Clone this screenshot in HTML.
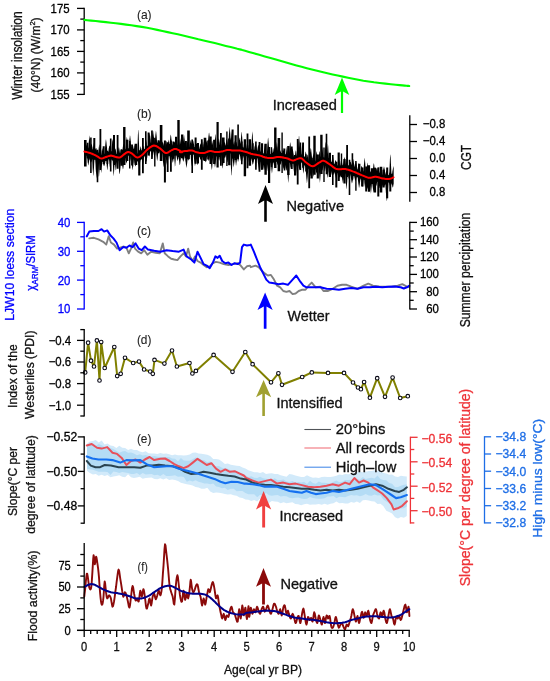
<!DOCTYPE html>
<html lang="en"><head><meta charset="utf-8"><title>Figure</title>
<style>html,body{margin:0;padding:0;background:#fff}svg{display:block}</style></head>
<body>
<svg width="550" height="681" viewBox="0 0 550 681" font-family='"Liberation Sans", Arial, sans-serif'>
<rect width="550" height="681" fill="#fff"/>
<line x1="84.2" y1="7.8" x2="84.2" y2="95.1" stroke="#000" stroke-width="1.3" stroke-linecap="butt"/>
<line x1="84.2" y1="8.4" x2="77" y2="8.4" stroke="#000" stroke-width="1.3" stroke-linecap="butt"/>
<line x1="84.2" y1="29.9" x2="77" y2="29.9" stroke="#000" stroke-width="1.3" stroke-linecap="butt"/>
<line x1="84.2" y1="51.4" x2="77" y2="51.4" stroke="#000" stroke-width="1.3" stroke-linecap="butt"/>
<line x1="84.2" y1="72.9" x2="77" y2="72.9" stroke="#000" stroke-width="1.3" stroke-linecap="butt"/>
<line x1="84.2" y1="94.4" x2="77" y2="94.4" stroke="#000" stroke-width="1.3" stroke-linecap="butt"/>
<line x1="84.2" y1="19.1" x2="80.3" y2="19.1" stroke="#000" stroke-width="1.3" stroke-linecap="butt"/>
<line x1="84.2" y1="40.6" x2="80.3" y2="40.6" stroke="#000" stroke-width="1.3" stroke-linecap="butt"/>
<line x1="84.2" y1="62.1" x2="80.3" y2="62.1" stroke="#000" stroke-width="1.3" stroke-linecap="butt"/>
<line x1="84.2" y1="83.7" x2="80.3" y2="83.7" stroke="#000" stroke-width="1.3" stroke-linecap="butt"/>
<text x="69.6" y="12.8" font-size="12.3" text-anchor="end" fill="#000" stroke="#000" stroke-width="0.3" textLength="19" lengthAdjust="spacingAndGlyphs">175</text>
<text x="69.6" y="34.3" font-size="12.3" text-anchor="end" fill="#000" stroke="#000" stroke-width="0.3" textLength="19" lengthAdjust="spacingAndGlyphs">170</text>
<text x="69.6" y="55.8" font-size="12.3" text-anchor="end" fill="#000" stroke="#000" stroke-width="0.3" textLength="19" lengthAdjust="spacingAndGlyphs">165</text>
<text x="69.6" y="77.3" font-size="12.3" text-anchor="end" fill="#000" stroke="#000" stroke-width="0.3" textLength="19" lengthAdjust="spacingAndGlyphs">160</text>
<text x="69.6" y="98.8" font-size="12.3" text-anchor="end" fill="#000" stroke="#000" stroke-width="0.3" textLength="19" lengthAdjust="spacingAndGlyphs">155</text>
<path d="M84.4,19.9 L87.2,20.2 L91.1,20.6 L95.7,21 L100.8,21.6 L105.9,22.1 L110.9,22.7 L115.8,23.3 L120.9,23.9 L126.1,24.6 L131.3,25.3 L136.6,26.1 L141.8,26.9 L147,27.8 L152.1,28.8 L157.2,29.9 L162.4,31 L167.6,32.1 L172.7,33.2 L177.8,34.3 L183,35.5 L188.1,36.7 L193.3,37.9 L198.4,39.2 L203.6,40.4 L209,41.7 L214.7,43.1 L220.4,44.5 L225.8,45.9 L230.6,47.1 L234.6,48.1 L237.3,48.8 L238.8,49.1 L239.8,49.4 L240.8,49.6 L242.3,50.1 L245,50.8 L249,51.9 L253.8,53.3 L259.2,54.8 L264.8,56.4 L270.5,58 L275.9,59.5 L281,61 L286.2,62.5 L291.3,63.9 L296.5,65.4 L301.6,66.8 L306.8,68.2 L311.9,69.5 L317.1,70.8 L322.2,72 L327.4,73.2 L332.6,74.4 L337.7,75.5 L342.8,76.6 L348,77.7 L353.1,78.7 L358.3,79.7 L363.4,80.7 L368.6,81.5 L374,82.3 L379.7,83 L385.4,83.6 L390.8,84.2 L395.7,84.7 L399.6,85.1 L402.5,85.4 L404.7,85.6 L406.3,85.8 L407.5,85.9 L408.4,85.9 L409.2,86" fill="none" stroke="#00FF00" stroke-width="2.1" stroke-linejoin="round" stroke-linecap="round"/>
<path d="M342,77.5 Q345.8,87.1 349.3,95 L343.1,91.6 L343.1,113 L340.9,113 L340.9,91.6 L334.7,95 Q338.2,87.1 342,77.5 Z" fill="#00FF00"/>
<text x="272.7" y="109.7" font-size="14.5" text-anchor="start" fill="#111" stroke="#111" stroke-width="0.3" textLength="64.1" lengthAdjust="spacingAndGlyphs">Increased</text>
<text x="136.9" y="18.5" font-size="13" text-anchor="start" fill="#222" stroke="#222" stroke-width="0.1" textLength="14.7" lengthAdjust="spacingAndGlyphs">(a)</text>
<text x="22.2" y="55.6" font-size="14" text-anchor="middle" fill="#111" stroke="#111" stroke-width="0.3" textLength="88.5" lengthAdjust="spacingAndGlyphs" transform="rotate(-90 22.2 55.6)">Winter insolation</text>
<text x="39.6" y="54.9" font-size="12.8" text-anchor="middle" fill="#111" stroke="#111" stroke-width="0.3" textLength="75" lengthAdjust="spacingAndGlyphs" transform="rotate(-90 39.6 54.9)">(40°N) (W/m<tspan font-size="8" dy="-4.5">2</tspan><tspan dy="4.5">)</tspan></text>
<path d="M84.7,146 L85,145.2 L85.2,144.3 L85.5,144.1 L85.7,143.7 L86,143.4 L86.2,144.5 L86.5,145 L86.7,145.4 L87,146.4 L87.2,148 L87.5,148 L87.7,148.3 L88,148.3 L88.2,148.2 L88.5,146.3 L88.7,142.7 L89,139.6 L89.2,137.1 L89.5,135.3 L89.7,138 L90,140.7 L90.2,144.1 L90.5,147.5 L90.7,146.4 L91,145.3 L91.2,144.4 L91.5,143.8 L91.7,143.9 L92,145.2 L92.2,146.4 L92.5,147.8 L92.7,149.7 L93,149 L93.2,147 L93.5,145.2 L93.7,143.9 L94,142.6 L94.2,143 L94.5,144.5 L94.7,146.2 L95,147.8 L95.2,149.8 L95.5,149 L95.7,148.6 L96,148 L96.2,148.1 L96.5,148.7 L96.7,149.9 L97,150.7 L97.2,151.7 L97.5,152.1 L97.7,152.6 L98,152.4 L98.2,153 L98.5,150.8 L98.7,148.1 L99,146.1 L99.2,144.6 L99.5,144.7 L99.7,147 L100,149.8 L100.2,152.8 L100.5,155 L100.7,155.4 L101,155.4 L101.2,154.4 L101.5,152.4 L101.7,150.8 L102,149.4 L102.2,148.1 L102.5,148.7 L102.7,149.7 L103,151.2 L103.2,152.6 L103.5,154.3 L103.7,154 L104,154 L104.2,153.8 L104.5,153.7 L104.7,152.4 L105,148.5 L105.2,145.5 L105.5,142.8 L105.7,140.5 L106,138.9 L106.2,140.8 L106.5,142.7 L106.7,145 L107,147.5 L107.2,150.5 L107.5,152.4 L107.7,152.1 L108,152.3 L108.2,152 L108.5,150.7 L108.7,148.6 L109,147.6 L109.2,146.1 L109.5,145.7 L109.7,145.3 L110,146.7 L110.2,147.5 L110.5,148.8 L110.7,149.9 L111,151.4 L111.2,151 L111.5,151.4 L111.7,148.1 L112,144.5 L112.2,141.8 L112.5,139.8 L112.7,138.9 L113,141.7 L113.2,144.5 L113.5,148 L113.7,152.2 L114,152.3 L114.2,152.1 L114.5,151.2 L114.7,150.4 L115,149.3 L115.2,148.8 L115.5,148.6 L115.7,149.8 L116,150.7 L116.2,152.1 L116.5,153.3 L116.7,154 L117,154.1 L117.2,154.1 L117.5,153.9 L117.7,154 L118,152 L118.2,150 L118.5,148.6 L118.7,147.4 L119,147.2 L119.2,148.3 L119.5,150 L119.7,151.2 L120,153.6 L120.2,152.9 L120.5,152 L120.7,150.9 L121,150.2 L121.2,149.6 L121.5,149.3 L121.7,149.2 L122,149.4 L122.2,149.5 L122.5,150 L122.7,147.9 L123,146.1 L123.2,144.7 L123.5,143.8 L123.7,144 L124,145.1 L124.2,146.4 L124.5,147.7 L124.7,149.7 L125,149.7 L125.2,149.2 L125.5,149.1 L125.7,148.4 L126,144.4 L126.2,141.7 L126.5,139.2 L126.7,137.2 L127,137.2 L127.2,138.9 L127.5,141.1 L127.7,144.1 L128,148 L128.2,148.2 L128.4,148.3 L128.7,148.5 L128.9,144.8 L129.2,142.1 L129.4,139.5 L129.7,137.6 L129.9,135.3 L130.2,136 L130.4,138.1 L130.7,140.5 L130.9,143.3 L131.2,147.5 L131.4,147.5 L131.7,147 L131.9,146.5 L132.2,145.5 L132.4,144.9 L132.7,144.6 L132.9,145.3 L133.2,146.5 L133.4,147.7 L133.7,148.8 L133.9,149.2 L134.2,147.9 L134.4,146.2 L134.7,145.2 L134.9,144.4 L135.2,144.8 L135.4,146.4 L135.7,148.2 L135.9,150 L136.2,151.6 L136.4,153.6 L136.7,153.3 L136.9,153.4 L137.2,153.5 L137.4,149.2 L137.7,141 L137.9,134.9 L138.2,130 L138.4,129.9 L138.7,135.3 L138.9,141.2 L139.2,149.2 L139.4,152.7 L139.7,152.6 L139.9,150 L140.2,148.6 L140.4,147.2 L140.7,145.9 L140.9,147.3 L141.2,148.2 L141.4,149.7 L141.7,150.8 L141.9,149.8 L142.2,148.4 L142.4,147.5 L142.7,146.5 L142.9,145.5 L143.2,145.7 L143.4,146.3 L143.7,147.2 L143.9,147.9 L144.2,149.1 L144.4,149 L144.7,148.9 L144.9,146.3 L145.2,143.7 L145.4,141.6 L145.7,139.8 L145.9,138.8 L146.2,140.2 L146.4,141.6 L146.7,143.1 L146.9,146.2 L147.2,145.5 L147.4,145.7 L147.7,145.6 L147.9,146 L148.2,144.3 L148.4,141.9 L148.7,139.7 L148.9,137.4 L149.2,135.3 L149.4,133.5 L149.7,133.3 L149.9,134.5 L150.2,136 L150.4,137.7 L150.7,139.9 L150.9,142.8 L151.2,142.7 L151.4,142.5 L151.7,139.3 L151.9,136.7 L152.2,134.8 L152.4,133 L152.7,131.2 L152.9,130 L153.2,131.5 L153.4,133.4 L153.7,135.4 L153.9,137.1 L154.2,139.4 L154.4,141.6 L154.7,141.6 L154.9,141.2 L155.2,137.8 L155.4,135.1 L155.7,132.8 L155.9,130.8 L156.2,131.9 L156.4,134.1 L156.7,136.7 L156.9,140.1 L157.2,142.3 L157.4,142.4 L157.7,142.7 L157.9,142.5 L158.2,142 L158.4,141.4 L158.7,141.3 L158.9,140.7 L159.2,140.5 L159.4,140.6 L159.7,141.5 L159.9,141.8 L160.2,142.3 L160.4,143.1 L160.7,144.4 L160.9,144.6 L161.2,144.9 L161.4,145.1 L161.7,144 L161.9,142.9 L162.2,142.8 L162.4,142.3 L162.7,141.6 L162.9,141.5 L163.2,142.9 L163.4,143.6 L163.7,144.5 L163.9,145.6 L164.2,147 L164.4,147.7 L164.7,147.8 L164.9,148 L165.2,147 L165.4,145 L165.7,143.4 L165.9,142.4 L166.2,140.9 L166.4,141 L166.7,142.5 L166.9,144.3 L167.2,145.6 L167.4,148.6 L167.7,146.1 L167.9,144.1 L168.2,142 L168.4,140.7 L168.7,139.5 L168.9,141.2 L169.2,142.3 L169.4,143.9 L169.7,143.9 L169.9,140.9 L170.2,138.5 L170.4,136.3 L170.7,134.6 L170.9,135.3 L171.2,136.8 L171.4,139 L171.7,141 L171.9,143.1 L172.2,145.3 L172.4,145.4 L172.7,144.1 L172.9,143.6 L173.2,143.4 L173.4,143 L173.7,142.4 L173.9,142 L174.2,142 L174.4,141.8 L174.7,142.3 L174.9,142.9 L175.2,143.1 L175.4,144.4 L175.7,144.8 L175.9,142.3 L176.2,140.4 L176.4,138.9 L176.7,137.4 L176.9,138.8 L177.2,140.6 L177.4,142.8 L177.7,145.5 L177.9,144.5 L178.2,141.9 L178.4,140.4 L178.7,138.4 L178.9,138.3 L179.2,139.7 L179.4,141.6 L179.7,143.5 L179.9,145.3 L180.2,142.7 L180.4,141.2 L180.7,139.7 L180.9,138.4 L181.2,137.1 L181.4,137.2 L181.7,138.3 L181.9,140.2 L182.2,141.8 L182.4,143.9 L182.7,145.9 L182.9,142.8 L183.2,140.3 L183.4,137.9 L183.7,135.9 L183.9,134 L184.2,135.9 L184.4,137.9 L184.7,140 L184.9,142.4 L185.2,145.5 L185.4,146.8 L185.7,147 L185.9,147.2 L186.2,147.1 L186.4,146 L186.7,144.9 L186.9,143.2 L187.2,142 L187.4,141 L187.7,141.8 L187.9,142.6 L188.2,144.1 L188.4,145.3 L188.7,146.4 L188.9,146.7 L189.2,146.9 L189.4,145.9 L189.7,144.3 L189.9,143.4 L190.2,142.5 L190.4,141.5 L190.7,140.2 L190.9,140.3 L191.2,141.1 L191.4,142 L191.7,143 L191.9,144.3 L192.2,143.7 L192.4,142.6 L192.7,141.5 L192.9,140.5 L193.2,140.8 L193.4,141.6 L193.7,143 L193.9,144.1 L194.2,145.1 L194.4,146.9 L194.7,147.2 L194.9,146.8 L195.2,146.8 L195.4,146.5 L195.7,145.5 L195.9,144.3 L196.2,144.1 L196.4,143.8 L196.7,143.2 L196.9,143.2 L197.2,144 L197.4,144.5 L197.7,145.3 L197.9,146.6 L198.2,148.6 L198.4,148.5 L198.7,148.6 L198.9,148.8 L199.2,148.9 L199.4,147.8 L199.7,146.8 L199.9,145.5 L200.2,144.5 L200.4,143.6 L200.7,143.5 L200.9,144.6 L201.2,145.5 L201.4,146.7 L201.7,148.2 L201.9,148.7 L202.2,145.9 L202.4,144.4 L202.7,142.6 L202.9,141.3 L203.2,141.9 L203.4,143.5 L203.7,144.8 L203.9,147.1 L204.2,149.1 L204.4,149.1 L204.7,149.3 L204.9,149.2 L205.2,148.8 L205.4,148.9 L205.7,145.7 L205.9,143.4 L206.2,141.7 L206.4,140.5 L206.7,140.6 L206.9,142.2 L207.2,143.5 L207.4,145.3 L207.7,145.8 L207.9,141.9 L208.2,138.9 L208.4,136.8 L208.7,134.6 L208.9,132.8 L209.2,132.8 L209.4,134.6 L209.7,136.6 L209.9,139.4 L210.2,142.3 L210.4,146.8 L210.7,147.1 L210.9,145.6 L211.2,144.2 L211.4,142.9 L211.7,142 L211.9,141.1 L212.2,141.1 L212.4,142.2 L212.7,143.6 L212.9,144.5 L213.2,146.2 L213.4,147.9 L213.7,147.8 L213.9,147.7 L214.2,148.2 L214.4,147.9 L214.7,144.5 L214.9,140 L215.2,136.8 L215.4,133.9 L215.7,135 L215.9,138.2 L216.2,141.9 L216.4,147.2 L216.7,147.5 L216.9,148 L217.2,148 L217.4,147.1 L217.7,144.8 L217.9,143.2 L218.2,141.4 L218.4,139.8 L218.7,138.5 L218.9,138.6 L219.2,140.1 L219.4,141.6 L219.7,143 L219.9,144.8 L220.2,146.6 L220.4,148.4 L220.7,148.3 L220.9,147.6 L221.2,146.5 L221.4,145.3 L221.7,144.2 L221.9,144.1 L222.2,144.8 L222.4,145.2 L222.7,146.6 L222.9,146.9 L223.2,147.1 L223.4,146.3 L223.7,144.8 L223.9,143.5 L224.2,142.5 L224.4,141.8 L224.7,141.6 L224.9,142.8 L225.2,143.8 L225.4,144.9 L225.7,145.7 L225.9,143.4 L226.2,141.5 L226.4,140 L226.7,138.6 L226.9,138.9 L227.2,140 L227.4,141.3 L227.7,142.7 L227.9,145.2 L228.2,145.4 L228.4,143.6 L228.7,138.4 L228.9,134.8 L229.2,131.3 L229.4,128.4 L229.7,126.6 L229.9,129.8 L230.2,132.8 L230.4,136.2 L230.7,140.2 L230.9,139.9 L231.2,137.1 L231.4,134.8 L231.7,132.7 L231.9,130.9 L232.2,133.1 L232.4,135 L232.7,137.7 L232.9,140.7 L233.2,143.7 L233.4,144.7 L233.7,143.2 L233.9,141.7 L234.2,140.5 L234.4,141.9 L234.7,143.1 L234.9,144.9 L235.2,147 L235.4,145.5 L235.7,144.1 L235.9,142.8 L236.2,141.8 L236.4,142.1 L236.7,142.9 L236.9,144.1 L237.2,145.8 L237.4,146.4 L237.7,146.2 L237.9,146.3 L238.2,146.2 L238.4,144.9 L238.7,142.3 L238.9,140.7 L239.2,139.1 L239.4,137.4 L239.7,138.1 L239.9,139.9 L240.2,141.7 L240.4,143.9 L240.7,141.5 L240.9,138.4 L241.2,135.4 L241.4,132.4 L241.7,132 L241.9,134.6 L242.2,137.2 L242.4,140.8 L242.7,146.3 L242.9,147.1 L243.2,147.5 L243.4,147.7 L243.7,146.4 L243.9,144.4 L244.2,143.1 L244.4,141.5 L244.7,140.7 L244.9,142.2 L245.2,143.6 L245.4,145.3 L245.7,147.6 L245.9,148.6 L246.2,148.6 L246.4,147.2 L246.7,145.2 L246.9,144.1 L247.2,142.4 L247.4,141.7 L247.7,142.8 L247.9,144.2 L248.2,145.6 L248.4,148 L248.7,148.8 L248.9,145.4 L249.2,143 L249.4,141 L249.7,139.4 L249.9,141.3 L250.2,143.4 L250.4,146.1 L250.7,149 L250.9,149.2 L251.2,149.4 L251.4,146.4 L251.7,141.3 L251.9,137 L252.2,133.6 L252.4,131.3 L252.7,134.4 L252.9,138.4 L253.2,142.7 L253.4,149.2 L253.7,149.8 L253.9,149.9 L254.2,149.7 L254.4,147.6 L254.7,146.2 L254.9,145.6 L255.2,144.7 L255.4,143.9 L255.7,143.2 L255.9,144.4 L256.2,145.1 L256.4,146.2 L256.7,147.6 L256.9,149.2 L257.2,151 L257.4,149.4 L257.7,147.7 L257.9,146.5 L258.2,145.5 L258.4,144.7 L258.7,144.9 L258.9,146.4 L259.2,147.2 L259.4,148.4 L259.7,150.1 L259.9,151.6 L260.2,151.4 L260.4,151.8 L260.7,149.4 L260.9,147.1 L261.2,145.8 L261.4,145.3 L261.7,146.6 L261.9,148.1 L262.2,150.9 L262.4,152.1 L262.7,152.6 L262.9,153.1 L263.2,153.3 L263.4,153.3 L263.7,153.8 L263.9,151 L264.2,148.7 L264.4,147 L264.7,145 L264.9,143.8 L265.2,145.2 L265.4,146.7 L265.7,148.5 L265.9,151.3 L266.2,153.2 L266.4,153.6 L266.7,153.8 L266.9,153.9 L267.2,148.1 L267.4,144.6 L267.7,141.4 L267.9,138.7 L268.2,137.4 L268.4,139.9 L268.7,142.7 L268.9,146.2 L269.2,149.9 L269.4,154.1 L269.7,154 L269.9,154.1 L270.2,154 L270.4,154.3 L270.7,153.8 L270.9,151.1 L271.2,149.8 L271.4,148.5 L271.7,147 L271.9,147.9 L272.2,149.5 L272.4,151.3 L272.7,153.1 L272.9,152.9 L273.2,151.4 L273.4,150.1 L273.7,148.8 L273.9,147.9 L274.2,147 L274.4,147.9 L274.7,149.1 L274.9,149.7 L275.2,150.7 L275.4,152.1 L275.7,153 L275.9,149 L276.2,146.5 L276.4,144.8 L276.7,143.1 L276.9,141.8 L277.2,143.9 L277.4,146 L277.7,147.6 L277.9,150 L278.2,152.7 L278.4,152.4 L278.7,151.4 L278.9,150.8 L279.2,150.2 L279.4,149.6 L279.7,149.2 L279.9,149.5 L280.2,150.4 L280.4,150.7 L280.7,151.4 L280.9,152.1 L281.2,153.1 L281.4,152.7 L281.7,153.2 L281.9,153 L282.2,152.7 L282.4,150.9 L282.7,149.8 L282.9,148.8 L283.2,147.8 L283.4,148.8 L283.7,150 L283.9,151 L284.2,152.2 L284.4,153.7 L284.7,153.6 L284.9,153.6 L285.2,153.8 L285.4,154.2 L285.7,154.4 L285.9,154.3 L286.2,151.2 L286.4,149.7 L286.7,147.7 L286.9,146.6 L287.2,148.1 L287.4,149.7 L287.7,151.4 L287.9,154 L288.2,153.9 L288.4,153.8 L288.7,154.1 L288.9,154.5 L289.2,151.2 L289.4,148.5 L289.7,145.9 L289.9,143.9 L290.2,142.1 L290.4,143.3 L290.7,145.3 L290.9,148.1 L291.2,150.6 L291.4,153.2 L291.7,151.8 L291.9,150.6 L292.2,149.3 L292.4,148.4 L292.7,148.8 L292.9,149.9 L293.2,151.5 L293.4,152.9 L293.7,154.8 L293.9,156.5 L294.2,156.5 L294.4,155.9 L294.7,155.9 L294.9,156.1 L295.2,153.9 L295.4,151.9 L295.7,150.9 L295.9,150.2 L296.2,151.3 L296.4,152.7 L296.7,154.7 L296.9,156.3 L297.2,155.7 L297.4,155 L297.7,154.3 L297.9,150.1 L298.2,145.2 L298.4,142 L298.7,138.8 L298.9,136.1 L299.2,136.2 L299.4,139.4 L299.7,142.4 L299.9,146.4 L300.2,150.9 L300.4,154.4 L300.7,154.5 L300.9,154.5 L301.2,154.4 L301.4,153.3 L301.7,149.5 L301.9,146.9 L302.2,144.9 L302.4,143.3 L302.7,142.4 L302.9,145 L303.2,147.3 L303.4,149.9 L303.7,152.7 L303.9,156.5 L304.2,156.3 L304.4,156.7 L304.7,156.8 L304.9,156.4 L305.2,154 L305.4,152.8 L305.7,151.6 L305.9,151.8 L306.2,153.4 L306.4,155.1 L306.7,157.3 L306.9,158.3 L307.2,156.6 L307.4,155.3 L307.7,154.7 L307.9,154.6 L308.2,155.9 L308.4,157.6 L308.7,159.2 L308.9,161.3 L309.2,161.3 L309.4,159.3 L309.7,155.9 L309.9,153.6 L310.2,151.5 L310.4,149.6 L310.7,148 L310.9,148.2 L311.2,149.8 L311.4,151.9 L311.7,154.5 L311.9,156.6 L312.2,160.8 L312.4,160.1 L312.7,157.9 L312.9,155.9 L313.2,154.7 L313.4,153.3 L313.7,153.6 L313.9,155.3 L314.2,156.7 L314.4,158.7 L314.7,160.8 L314.9,161.9 L315.2,161.3 L315.4,161.1 L315.7,159.4 L315.9,156.4 L316.2,153.7 L316.4,151.8 L316.7,151.3 L316.9,153 L317.2,154.7 L317.4,157.2 L317.7,159.9 L317.9,159.2 L318.2,158.9 L318.4,158.9 L318.7,158.1 L318.9,155.5 L319.2,153.5 L319.4,151.5 L319.7,151.3 L319.9,152.3 L320.2,153.5 L320.4,156.1 L320.7,157.3 L320.9,156.3 L321.2,153.7 L321.4,151.5 L321.7,149.5 L321.9,148.1 L322.2,147 L322.4,148.5 L322.7,150.6 L322.9,152.5 L323.2,154.7 L323.4,157.5 L323.7,157.2 L323.9,157.3 L324.2,157.6 L324.4,157.4 L324.7,154.2 L324.9,150.7 L325.2,147.3 L325.4,144.6 L325.7,142.6 L325.9,142.1 L326.2,144.9 L326.4,147.7 L326.7,150.8 L326.9,154.9 L327.2,152.5 L327.4,148.5 L327.7,145.8 L327.9,143.6 L328.2,146.5 L328.4,150.4 L328.7,154.7 L328.9,158.3 L329.2,156.9 L329.4,155.8 L329.7,154.4 L329.9,153 L330.2,153.7 L330.4,154.7 L330.7,156.3 L330.9,158.2 L331.2,160.5 L331.4,161.5 L331.7,161.9 L331.9,161.9 L332.2,160.5 L332.4,158.5 L332.7,156.9 L332.9,155.7 L333.2,157.5 L333.4,159 L333.7,161.5 L333.9,163.7 L334.2,164.2 L334.4,163.8 L334.7,162.9 L334.9,161.8 L335.2,161.2 L335.4,160.2 L335.7,160.1 L335.9,160.8 L336.2,161.8 L336.4,163 L336.7,164.5 L336.9,165.3 L337.2,165.2 L337.4,165.4 L337.7,165.3 L337.9,161.6 L338.2,159.8 L338.4,158.4 L338.7,156.4 L338.9,156.8 L339.2,158.8 L339.4,160.5 L339.7,162.5 L339.9,165.7 L340.2,165.6 L340.4,164.8 L340.7,162.8 L340.9,160.9 L341.2,159.4 L341.4,158.6 L341.7,160.1 L341.9,161.5 L342.2,163.2 L342.4,165.5 L342.7,165.1 L342.9,164.6 L343.2,164.2 L343.4,162.2 L343.7,160.5 L343.9,159.5 L344.2,158.2 L344.4,156.9 L344.7,157.7 L344.9,158.7 L345.2,160 L345.4,161.5 L345.7,163.5 L345.9,164.9 L346.2,161.7 L346.4,158.2 L346.7,155.9 L346.9,153.1 L347.2,153.9 L347.4,156.6 L347.7,159.9 L347.9,163.7 L348.2,165.5 L348.4,165.6 L348.7,165.3 L348.9,164.9 L349.2,165 L349.4,164.2 L349.7,163.3 L349.9,162.7 L350.2,162.1 L350.4,161.8 L350.7,161.4 L350.9,162.6 L351.2,163.2 L351.4,164 L351.7,164.6 L351.9,165.2 L352.2,163 L352.4,161.9 L352.7,160.8 L352.9,159.6 L353.2,158.9 L353.4,160.1 L353.7,161.5 L353.9,163 L354.2,164.5 L354.4,166.8 L354.7,166.6 L354.9,164.7 L355.2,163.4 L355.4,162.7 L355.7,161.5 L355.9,160.7 L356.2,162.1 L356.4,163.2 L356.7,164.6 L356.9,166.2 L357.2,168.3 L357.4,169.4 L357.7,169.3 L357.9,167 L358.2,165.2 L358.4,164.3 L358.7,162.7 L358.9,163.7 L359.2,165 L359.4,167.1 L359.7,169.2 L359.9,171.4 L360.2,171.7 L360.4,171.7 L360.7,169.9 L360.9,168.2 L361.2,167.2 L361.4,166.4 L361.7,165.7 L361.9,166.3 L362.2,167.5 L362.4,168.6 L362.7,169.4 L362.9,171.1 L363.2,171.3 L363.4,171.4 L363.7,168 L363.9,164.9 L364.2,162 L364.4,159.5 L364.7,157.6 L364.9,160.1 L365.2,162.4 L365.4,165.6 L365.7,169.3 L365.9,173 L366.2,172.8 L366.4,171.9 L366.7,168.7 L366.9,166.6 L367.2,164.4 L367.4,162.6 L367.7,163.5 L367.9,165.4 L368.2,167.5 L368.4,170.5 L368.7,173.9 L368.9,173.8 L369.2,173.8 L369.4,173.8 L369.7,173 L369.9,172.6 L370.2,172.2 L370.4,171.7 L370.7,171.3 L370.9,171 L371.2,171.2 L371.4,171.6 L371.7,172 L371.9,172.4 L372.2,173.5 L372.4,173.5 L372.7,172 L372.9,169.4 L373.2,167.3 L373.4,165.3 L373.7,163.2 L373.9,163.4 L374.2,164.8 L374.4,166.7 L374.7,168.6 L374.9,169.9 L375.2,169.2 L375.4,169 L375.7,167.8 L375.9,167.6 L376.2,168 L376.4,168.8 L376.7,169.1 L376.9,170.6 L377.2,170.7 L377.4,169.9 L377.7,168.7 L377.9,168 L378.2,167 L378.4,167.4 L378.7,168.4 L378.9,169.8 L379.2,171.4 L379.4,172.9 L379.7,172.8 L379.9,171.7 L380.2,170.5 L380.4,169.7 L380.7,168.5 L380.9,168.3 L381.2,169.3 L381.4,170.5 L381.7,171 L381.9,172.7 L382.2,174.9 L382.4,174.7 L382.7,172.6 L382.9,171.6 L383.2,170.2 L383.4,168.5 L383.7,167.8 L383.9,166.3 L384.2,167 L384.4,168 L384.7,169.5 L384.9,170.7 L385.2,172.4 L385.4,175 L385.7,173.6 L385.9,172.6 L386.2,171.3 L386.4,170.5 L386.7,170.4 L386.9,170.9 L387.2,171.8 L387.4,173.4 L387.7,175 L387.9,175.1 L388.2,175.3 L388.4,175 L388.7,174.8 L388.9,174.5 L389.2,174.5 L389.4,171 L389.7,164.3 L389.9,159.4 L390.2,155.3 L390.4,154.2 L390.7,157.8 L390.9,162.9 L391.2,168.6 L391.4,174.1 L391.7,173.8 L391.9,174.2 L392.2,173.3 L392.4,171.2 L392.7,169.9 L392.9,168.7 L393.2,167.7 L393.4,166.4 L393.7,166.6 L393.7,183.8 L393.4,185.1 L393.2,186.4 L392.9,187.5 L392.7,187.4 L392.4,186.7 L392.2,185.6 L391.9,184.7 L391.7,183.4 L391.4,183.5 L391.2,184.5 L390.9,185.3 L390.7,185.8 L390.4,186.2 L390.2,186.2 L389.9,185.7 L389.7,184.9 L389.4,184 L389.2,183.1 L388.9,182.5 L388.7,182.5 L388.4,182.8 L388.2,186.8 L387.9,191.1 L387.7,193.8 L387.4,196.5 L387.2,198.8 L386.9,201.3 L386.7,200.5 L386.4,198.1 L386.2,195.3 L385.9,192.7 L385.7,189.8 L385.4,185.2 L385.2,184.3 L384.9,184.9 L384.7,185.3 L384.4,185.8 L384.2,186 L383.9,185.6 L383.7,185 L383.4,184.4 L383.2,183.5 L382.9,184.8 L382.7,185.6 L382.4,186.3 L382.2,187.2 L381.9,188.1 L381.7,187.2 L381.4,186.5 L381.2,185.8 L380.9,184.9 L380.7,185.4 L380.4,186.2 L380.2,186.9 L379.9,187.9 L379.7,187.9 L379.4,187.6 L379.2,186.3 L378.9,185.3 L378.7,184 L378.4,182.7 L378.2,181.4 L377.9,181.8 L377.7,181.9 L377.4,181.7 L377.2,181.5 L376.9,183.2 L376.7,184.4 L376.4,185.6 L376.2,186.2 L375.9,184.6 L375.7,183.6 L375.4,181.9 L375.2,180.4 L374.9,183.4 L374.7,186 L374.4,187.5 L374.2,189.1 L373.9,190.7 L373.7,192.1 L373.4,190.8 L373.2,189.7 L372.9,188.6 L372.7,187 L372.4,184.6 L372.2,182.2 L371.9,182.5 L371.7,186.4 L371.4,188.9 L371.2,191.6 L370.9,193.7 L370.7,191.7 L370.4,189.6 L370.2,186.9 L369.9,183.4 L369.7,181.9 L369.4,182 L369.2,182 L368.9,182.3 L368.7,183 L368.4,185.1 L368.2,186.4 L367.9,187.4 L367.7,188.5 L367.4,189.6 L367.2,188 L366.9,187.1 L366.7,185.6 L366.4,183.7 L366.2,182.1 L365.9,184.2 L365.7,185.6 L365.4,187.2 L365.2,187.9 L364.9,186.4 L364.7,185.1 L364.4,182.9 L364.2,180 L363.9,179.7 L363.7,179.8 L363.4,181.2 L363.2,183.6 L362.9,185.6 L362.7,187.2 L362.4,186.4 L362.2,185.1 L361.9,182.9 L361.7,179.9 L361.4,179.7 L361.2,179.6 L360.9,179 L360.7,178.5 L360.4,178.6 L360.2,181.1 L359.9,182.9 L359.7,184.8 L359.4,186.6 L359.2,187.7 L358.9,187.5 L358.7,185.6 L358.4,184 L358.2,182.2 L357.9,180.1 L357.7,177.1 L357.4,177.4 L357.2,177.6 L356.9,177.5 L356.7,177.1 L356.4,177.8 L356.2,179 L355.9,179.7 L355.7,180.4 L355.4,181.5 L355.2,180.6 L354.9,179.8 L354.7,178.3 L354.4,177.2 L354.2,175.9 L353.9,176.2 L353.7,176.1 L353.4,176.2 L353.2,178.5 L352.9,179.6 L352.7,180.7 L352.4,181.8 L352.2,182.9 L351.9,183.5 L351.7,182.6 L351.4,181.2 L351.2,179.3 L350.9,177.7 L350.7,175.9 L350.4,173.7 L350.2,175.7 L349.9,177.2 L349.7,178.3 L349.4,179.5 L349.2,180.2 L348.9,179.3 L348.7,178.4 L348.4,177.6 L348.2,176.3 L347.9,174.6 L347.7,174.3 L347.4,177.7 L347.2,181.9 L346.9,185.1 L346.7,187.7 L346.4,189.4 L346.2,186.7 L345.9,183.4 L345.7,179.8 L345.4,175.7 L345.2,173.5 L344.9,173.8 L344.7,174 L344.4,174.1 L344.2,175.8 L343.9,177.6 L343.7,179.4 L343.4,180.6 L343.2,182.2 L342.9,183.2 L342.7,181.8 L342.4,180.3 L342.2,179.2 L341.9,177 L341.7,174.9 L341.4,174 L341.2,174.7 L340.9,175.5 L340.7,176 L340.4,176.4 L340.2,177 L339.9,177.7 L339.7,177.3 L339.4,177.3 L339.2,176.9 L338.9,176.2 L338.7,175.4 L338.4,173.9 L338.2,173.4 L337.9,173.1 L337.7,172.9 L337.4,174 L337.2,174.9 L336.9,176.1 L336.7,176.8 L336.4,178 L336.2,178.4 L335.9,177.9 L335.7,177.1 L335.4,176 L335.2,174.7 L334.9,173.3 L334.7,172 L334.4,173 L334.2,174 L333.9,174.8 L333.7,174.9 L333.4,174.3 L333.2,173.5 L332.9,172.3 L332.7,170.4 L332.4,170.4 L332.2,170.5 L331.9,171.4 L331.7,172.7 L331.4,174 L331.2,174.8 L330.9,175.5 L330.7,174.9 L330.4,173.7 L330.2,172.7 L329.9,170.9 L329.7,169.4 L329.4,168.6 L329.2,168.3 L328.9,167.6 L328.7,171 L328.4,172.9 L328.2,174.7 L327.9,176.8 L327.7,178.2 L327.4,176.3 L327.2,174.5 L326.9,172.5 L326.7,169.5 L326.4,166.3 L326.2,166.5 L325.9,166 L325.7,167.8 L325.4,169.3 L325.2,170.6 L324.9,171.6 L324.7,171.8 L324.4,170.4 L324.2,168.9 L323.9,167 L323.7,164.7 L323.4,166.3 L323.2,167.6 L322.9,168.3 L322.7,169.6 L322.4,170.8 L322.2,170.4 L321.9,169.5 L321.7,168.9 L321.4,167.8 L321.2,166.2 L320.9,168.9 L320.7,173.3 L320.4,176.9 L320.2,180 L319.9,182.9 L319.7,180.5 L319.4,178 L319.2,174.7 L318.9,170.8 L318.7,167.6 L318.4,167.5 L318.2,167.5 L317.9,167.5 L317.7,167.8 L317.4,169.2 L317.2,171.3 L316.9,172.4 L316.7,173.6 L316.4,173.2 L316.2,172.3 L315.9,171.4 L315.7,170.1 L315.4,169.1 L315.2,169.5 L314.9,169.7 L314.7,169.6 L314.4,169.6 L314.2,171 L313.9,173.1 L313.7,174.7 L313.4,176 L313.2,176.8 L312.9,175.4 L312.7,173.9 L312.4,172.4 L312.2,169.7 L311.9,169.8 L311.7,169.6 L311.4,170.8 L311.2,172.6 L310.9,173.5 L310.7,174.9 L310.4,176.2 L310.2,176 L309.9,174.5 L309.7,173.2 L309.4,171.6 L309.2,169.5 L308.9,168.8 L308.7,168.7 L308.4,168.8 L308.2,170.4 L307.9,173.8 L307.7,176.8 L307.4,179.2 L307.2,181.4 L306.9,183.4 L306.7,181 L306.4,178.4 L306.2,175.7 L305.9,172.3 L305.7,167.2 L305.4,166.8 L305.2,166.8 L304.9,166.1 L304.7,165.6 L304.4,165.1 L304.2,167.7 L303.9,169.7 L303.7,171.6 L303.4,173.8 L303.2,172.5 L302.9,170.3 L302.7,167.8 L302.4,164.6 L302.2,163.1 L301.9,163.2 L301.7,162.5 L301.4,162.4 L301.2,162.4 L300.9,164.1 L300.7,165.6 L300.4,166.8 L300.2,168.3 L299.9,169.6 L299.7,170.5 L299.4,170 L299.2,169.1 L298.9,168 L298.7,166.6 L298.4,165.2 L298.2,163.7 L297.9,168.4 L297.7,171.6 L297.4,174.1 L297.2,176.6 L296.9,175.6 L296.7,172.9 L296.4,169.9 L296.2,166.8 L295.9,163.9 L295.7,164 L295.4,164.1 L295.2,164.4 L294.9,167 L294.7,169.2 L294.4,171.3 L294.2,173.2 L293.9,171.2 L293.7,169.6 L293.4,167.1 L293.2,163.7 L292.9,164.1 L292.7,163.9 L292.4,163.8 L292.2,163.7 L291.9,163.7 L291.7,164.3 L291.4,165.8 L291.2,166.8 L290.9,167.9 L290.7,167.5 L290.4,166.4 L290.2,164.8 L289.9,163.1 L289.7,162.6 L289.4,163.1 L289.2,168.7 L288.9,173.7 L288.7,177.7 L288.4,181.4 L288.2,182.9 L287.9,179.1 L287.7,175.6 L287.4,171.4 L287.2,166.8 L286.9,168.5 L286.7,169.9 L286.4,170.6 L286.2,170.8 L285.9,169.6 L285.7,168.4 L285.4,167 L285.2,166 L284.9,164.2 L284.7,163.9 L284.4,165.1 L284.2,166 L283.9,166.6 L283.7,168 L283.4,169.2 L283.2,168.3 L282.9,167.6 L282.7,166.5 L282.4,164.9 L282.2,163.1 L281.9,161 L281.7,160.9 L281.4,161.5 L281.2,162.6 L280.9,163.6 L280.7,164.2 L280.4,164.5 L280.2,164.8 L279.9,164.5 L279.7,163.8 L279.4,163.4 L279.2,163.1 L278.9,162.6 L278.7,163.5 L278.4,164.5 L278.2,165.2 L277.9,165.3 L277.7,164.8 L277.4,164.2 L277.2,163.5 L276.9,161.9 L276.7,162 L276.4,162 L276.2,161.6 L275.9,161.3 L275.7,161.6 L275.4,162.7 L275.2,163.9 L274.9,165.1 L274.7,165.9 L274.4,166.1 L274.2,165.7 L273.9,164.7 L273.7,163.6 L273.4,162.5 L273.2,162.3 L272.9,163.6 L272.7,167.2 L272.4,169.7 L272.2,172.1 L271.9,173.5 L271.7,171.6 L271.4,168.9 L271.2,166.2 L270.9,162.2 L270.7,163.2 L270.4,167.3 L270.2,170.3 L269.9,172.7 L269.7,173.9 L269.4,171.7 L269.2,168.9 L268.9,166.3 L268.7,161.9 L268.4,161.8 L268.2,162.1 L267.9,165.3 L267.7,167 L267.4,169.2 L267.2,170.9 L266.9,170.5 L266.7,169.1 L266.4,167.4 L266.2,165.1 L265.9,162.2 L265.7,162.1 L265.4,163.1 L265.2,165 L264.9,166.4 L264.7,167.9 L264.4,169 L264.2,169.9 L263.9,169.9 L263.7,168.7 L263.4,167.2 L263.2,165.8 L262.9,164.3 L262.7,162.8 L262.4,160.6 L262.2,163.5 L261.9,165.7 L261.7,168 L261.4,169.7 L261.2,170.3 L260.9,168.2 L260.7,166.4 L260.4,163.5 L260.2,161.3 L259.9,164.1 L259.7,166.2 L259.4,167.7 L259.2,169.2 L258.9,170.5 L258.7,168.8 L258.4,166.8 L258.2,164.7 L257.9,163.1 L257.7,160.6 L257.4,158.5 L257.2,158.2 L256.9,158.7 L256.7,161.6 L256.4,164.4 L256.2,166.5 L255.9,168.5 L255.7,166.3 L255.4,164.1 L255.2,161.8 L254.9,158.8 L254.7,159.3 L254.4,159.6 L254.2,159.3 L253.9,160.4 L253.7,161.9 L253.4,162.7 L253.2,163.7 L252.9,164.5 L252.7,164.7 L252.4,163.7 L252.2,162.6 L251.9,160.9 L251.7,159.3 L251.4,158.3 L251.2,160 L250.9,161.4 L250.7,162.8 L250.4,163.9 L250.2,163.5 L249.9,162 L249.7,160.9 L249.4,159.5 L249.2,157.9 L248.9,157.5 L248.7,157.5 L248.4,160 L248.2,161.4 L247.9,162.5 L247.7,164.2 L247.4,163.9 L247.2,161.8 L246.9,160.3 L246.7,158 L246.4,156.1 L246.2,156.1 L245.9,156.5 L245.7,156.5 L245.4,156.6 L245.2,156.9 L244.9,157.8 L244.7,157.8 L244.4,158.6 L244.2,158.9 L243.9,158.3 L243.7,157.5 L243.4,157.1 L243.2,155.8 L242.9,155.9 L242.7,158.2 L242.4,159.9 L242.2,161.1 L241.9,162.1 L241.7,163 L241.4,163.3 L241.2,162 L240.9,160.8 L240.7,160 L240.4,158.4 L240.2,156.8 L239.9,154.7 L239.7,154.5 L239.4,154 L239.2,156.3 L238.9,158 L238.7,159.5 L238.4,160.6 L238.2,161.7 L237.9,161.4 L237.7,160.2 L237.4,158.9 L237.2,157.4 L236.9,159.7 L236.7,161.6 L236.4,163.6 L236.2,165.6 L235.9,165.5 L235.7,163.3 L235.4,161.5 L235.2,158.9 L234.9,157.7 L234.7,160 L234.4,162.2 L234.2,164.1 L233.9,166.1 L233.7,167.4 L233.4,165.5 L233.2,163.5 L232.9,161.3 L232.7,158.8 L232.4,158.6 L232.2,165.1 L231.9,170.4 L231.7,174.9 L231.4,175.5 L231.2,171.3 L230.9,166.5 L230.7,160.1 L230.4,153.4 L230.2,153.6 L229.9,153.5 L229.7,153.3 L229.4,153.6 L229.2,154 L228.9,155.8 L228.7,157.8 L228.4,159.7 L228.2,160.9 L227.9,162.2 L227.7,162.3 L227.4,161.3 L227.2,159.9 L226.9,158.6 L226.7,156.8 L226.4,154.7 L226.2,154.5 L225.9,155.3 L225.7,156.3 L225.4,156.9 L225.2,157.4 L224.9,158.2 L224.7,158.3 L224.4,157.6 L224.2,157.4 L223.9,156.5 L223.7,158.5 L223.4,161.7 L223.2,164.1 L222.9,166.1 L222.7,168.6 L222.4,168 L222.2,166.1 L221.9,163.8 L221.7,161.5 L221.4,158.3 L221.2,155.3 L220.9,155.7 L220.7,157.8 L220.4,159.2 L220.2,160.6 L219.9,160.7 L219.7,160.1 L219.4,158.8 L219.2,156.7 L218.9,157.3 L218.7,158.8 L218.4,159.5 L218.2,160.2 L217.9,160.8 L217.7,160.2 L217.4,159.4 L217.2,158.3 L216.9,156.6 L216.7,156.6 L216.4,156.3 L216.2,158.3 L215.9,160.7 L215.7,162.8 L215.4,164.7 L215.2,166.2 L214.9,167.4 L214.7,165.7 L214.4,163.6 L214.2,161.5 L213.9,159.6 L213.7,156.8 L213.4,155 L213.2,155.3 L212.9,159.3 L212.7,162.1 L212.4,165.1 L212.2,167.6 L211.9,170 L211.7,169.3 L211.4,167.3 L211.2,164.9 L210.9,162 L210.7,158 L210.4,155.4 L210.2,155.2 L209.9,156.5 L209.7,157.9 L209.4,159.1 L209.2,160.2 L208.9,161 L208.7,160.9 L208.4,159.6 L208.2,158.7 L207.9,157.8 L207.7,156.1 L207.4,155.5 L207.2,155.8 L206.9,157.1 L206.7,158.6 L206.4,159.9 L206.2,161.2 L205.9,162.2 L205.7,162.2 L205.4,161.5 L205.2,160.8 L204.9,159.5 L204.7,158.1 L204.4,157.9 L204.2,158.8 L203.9,159.8 L203.7,160.6 L203.4,160.8 L203.2,160.2 L202.9,159.6 L202.7,158.6 L202.4,157.3 L202.2,157.2 L201.9,157 L201.7,157.4 L201.4,158.2 L201.2,158.9 L200.9,159.5 L200.7,159.9 L200.4,159.4 L200.2,158.9 L199.9,158.3 L199.7,157.6 L199.4,156.8 L199.2,157 L198.9,156.5 L198.7,156.3 L198.4,158.7 L198.2,160.8 L197.9,161.9 L197.7,163.6 L197.4,165 L197.2,164.9 L196.9,163.4 L196.7,162.1 L196.4,160.7 L196.2,159 L195.9,159.8 L195.7,162.2 L195.4,163.7 L195.2,165.2 L194.9,166 L194.7,164.3 L194.4,161.9 L194.2,160.3 L193.9,157.4 L193.7,155 L193.4,154.5 L193.2,154.5 L192.9,155.2 L192.7,159 L192.4,161.1 L192.2,163.6 L191.9,165.9 L191.7,165.5 L191.4,163.3 L191.2,161.5 L190.9,159.1 L190.7,155 L190.4,154.8 L190.2,154.9 L189.9,154.4 L189.7,155.7 L189.4,157.4 L189.2,158.4 L188.9,159.3 L188.7,160.7 L188.4,160.2 L188.2,159.4 L187.9,158.2 L187.7,158.8 L187.4,161.1 L187.2,163.1 L186.9,165 L186.7,166.8 L186.4,168 L186.2,166.1 L185.9,164.5 L185.7,162.5 L185.4,160.9 L185.2,158.5 L184.9,155.2 L184.7,156.8 L184.4,157.8 L184.2,158.7 L183.9,159.5 L183.7,160.6 L183.4,161.7 L183.2,161.4 L182.9,160.6 L182.7,159.7 L182.4,158.4 L182.2,157.1 L181.9,155.5 L181.7,155.2 L181.4,155.3 L181.2,155.7 L180.9,157.3 L180.7,159.7 L180.4,161.9 L180.2,163.7 L179.9,165.1 L179.7,165.2 L179.4,163.3 L179.2,161.4 L178.9,159.2 L178.7,156.6 L178.4,157.6 L178.2,158.9 L177.9,159.6 L177.7,160.6 L177.4,161.1 L177.2,159.6 L176.9,158.2 L176.7,157.1 L176.4,155.8 L176.2,153.9 L175.9,154.6 L175.7,159.7 L175.4,163.2 L175.2,166.1 L174.9,166.5 L174.7,163.4 L174.4,160 L174.2,155.4 L173.9,156.2 L173.7,158.2 L173.4,159.9 L173.2,161.3 L172.9,162.9 L172.7,162.3 L172.4,161.2 L172.2,160 L171.9,158.7 L171.7,156.9 L171.4,157 L171.2,159.3 L170.9,160.7 L170.7,162.1 L170.4,162.6 L170.2,161.3 L169.9,159.6 L169.7,158.1 L169.4,156.2 L169.2,156.1 L168.9,155.8 L168.7,156.2 L168.4,156.9 L168.2,159.4 L167.9,161.2 L167.7,163 L167.4,164.5 L167.2,165.8 L166.9,164.7 L166.7,163.8 L166.4,162.5 L166.2,160.5 L165.9,158.5 L165.7,157.1 L165.4,157.1 L165.2,157.2 L164.9,160.2 L164.7,162.5 L164.4,164.1 L164.2,165.4 L163.9,166.7 L163.7,166.7 L163.4,164.9 L163.2,163.2 L162.9,160.9 L162.7,158.2 L162.4,154.6 L162.2,153.6 L161.9,152.8 L161.7,154.3 L161.4,156.2 L161.2,157.9 L160.9,159.2 L160.7,159.1 L160.4,157.5 L160.2,155.4 L159.9,153 L159.7,151.8 L159.4,151.7 L159.2,151.5 L158.9,151.4 L158.7,151.5 L158.4,151.2 L158.2,153.6 L157.9,156.1 L157.7,158.3 L157.4,159.8 L157.2,161.2 L156.9,159.5 L156.7,157.3 L156.4,155 L156.2,152.2 L155.9,149.8 L155.7,152.3 L155.4,153.7 L155.2,155.1 L154.9,156.3 L154.7,157.9 L154.4,157.3 L154.2,156.5 L153.9,155 L153.7,153.5 L153.4,151.9 L153.2,150.9 L152.9,153.8 L152.7,156.4 L152.4,158.4 L152.2,158.8 L151.9,156.7 L151.7,154.7 L151.4,152.3 L151.2,150.5 L150.9,150.7 L150.7,151.4 L150.4,151.6 L150.2,151.2 L149.9,153.3 L149.7,154.6 L149.4,155.9 L149.2,156.6 L148.9,156.1 L148.7,154.8 L148.4,153.4 L148.2,152 L147.9,152.2 L147.7,152.6 L147.4,155.5 L147.2,157.4 L146.9,159 L146.7,161 L146.4,161.9 L146.2,161 L145.9,159.9 L145.7,159 L145.4,157.2 L145.2,155.5 L144.9,155.7 L144.7,156.3 L144.4,156.8 L144.2,157.3 L143.9,157.5 L143.7,159.5 L143.4,161.7 L143.2,163.3 L142.9,165.1 L142.7,164.3 L142.4,163.1 L142.2,161.6 L141.9,159.2 L141.7,159.2 L141.4,159.4 L141.2,159.6 L140.9,160 L140.7,160.2 L140.4,160.3 L140.2,161.7 L139.9,163.2 L139.7,164.5 L139.4,165.9 L139.2,166.7 L138.9,166.1 L138.7,164.9 L138.4,163.7 L138.2,162.9 L137.9,161.1 L137.7,161.6 L137.4,161.7 L137.2,161.6 L136.9,161.2 L136.7,163.2 L136.4,163.7 L136.2,164.8 L135.9,165.3 L135.7,166 L135.4,166.5 L135.2,165.7 L134.9,164.4 L134.7,163.5 L134.4,162.5 L134.2,160.9 L133.9,159.2 L133.7,162.3 L133.4,164.5 L133.2,166.4 L132.9,168.1 L132.7,169.9 L132.4,169.5 L132.2,167.4 L131.9,164.8 L131.7,162.4 L131.4,159.7 L131.2,156.5 L130.9,156.3 L130.7,158.9 L130.4,159.9 L130.2,160.8 L129.9,161.9 L129.7,161.1 L129.4,159.4 L129.2,158.3 L128.9,156.2 L128.7,155.8 L128.4,155.7 L128.2,155.6 L128,155.5 L127.7,155.9 L127.5,158.1 L127.2,160.1 L127,161.7 L126.7,162.8 L126.5,163.7 L126.2,162.6 L126,161.6 L125.7,160.5 L125.5,159.7 L125.2,158 L125,157.9 L124.7,157.6 L124.5,158 L124.2,160.6 L124,163 L123.7,165.2 L123.5,167.1 L123.2,168.8 L123,169.6 L122.7,168.5 L122.5,167 L122.2,165.9 L122,164.2 L121.7,162.4 L121.5,160.4 L121.2,161 L121,160.9 L120.7,164.2 L120.5,167.3 L120.2,170.2 L120,172 L119.7,174 L119.5,174.2 L119.2,172.3 L119,169.7 L118.7,167.4 L118.5,164.4 L118.2,160.6 L118,160.9 L117.7,161.3 L117.5,161.3 L117.2,161.5 L117,161.7 L116.7,164 L116.5,166.3 L116.2,168.4 L116,170.2 L115.7,170.1 L115.5,168.6 L115.2,166.1 L115,163.5 L114.7,160.5 L114.5,164.6 L114.2,169.2 L114,173 L113.7,176.6 L113.5,174.2 L113.2,170.9 L113,166.5 L112.7,160.8 L112.5,160.7 L112.2,160.5 L112,160 L111.7,159.4 L111.5,159.3 L111.2,161.1 L111,163.5 L110.7,165.5 L110.5,167.5 L110.2,169.1 L110,167.6 L109.7,165.7 L109.5,163.9 L109.2,161.3 L109,158.9 L108.7,159.3 L108.5,159.7 L108.2,161 L108,164.8 L107.7,167.6 L107.5,169.8 L107.2,169.7 L107,168 L106.7,165.3 L106.5,161.3 L106.2,161.1 L106,161 L105.7,161 L105.5,161.1 L105.2,162.7 L105,163.6 L104.7,164.6 L104.5,165.2 L104.2,166.3 L104,166 L103.7,165.7 L103.5,164.6 L103.2,163.6 L103,161.9 L102.7,161.9 L102.5,161.6 L102.2,162 L102,164.8 L101.7,168 L101.5,170.5 L101.2,173.2 L101,171.1 L100.7,169.1 L100.5,166 L100.2,162.4 L100,161.9 L99.7,166.7 L99.5,170.9 L99.2,174.2 L99,177.1 L98.7,176.1 L98.5,172.7 L98.2,168.8 L98,163.6 L97.7,160.7 L97.5,162.3 L97.2,168 L97,172 L96.7,175.6 L96.5,178.7 L96.2,176.5 L96,172.7 L95.7,168.9 L95.5,164.2 L95.2,160 L95,159.6 L94.7,159.3 L94.5,158.9 L94.2,163.3 L94,167.4 L93.7,171.3 L93.5,174.8 L93.2,176.1 L93,172.7 L92.7,169.5 L92.5,165.3 L92.2,158.8 L92,160.3 L91.7,161.2 L91.5,161.7 L91.2,162.3 L91,162.8 L90.7,162.8 L90.5,162.2 L90.2,161.7 L90,160.6 L89.7,159.7 L89.5,158.2 L89.2,160.4 L89,161.9 L88.7,163.4 L88.5,164.7 L88.2,165.4 L88,163.8 L87.7,162.4 L87.5,160.3 L87.2,158.2 L87,156 L86.7,155.6 L86.5,155.8 L86.2,157.8 L86,159.2 L85.7,160.3 L85.5,161.3 L85.2,162.1 L85,160.9 L84.7,160.1Z" fill="#000"/>
<path d="M129.7,141V168.5M154.8,137.8V166.4M226.9,131.6V165.9M271.5,147.2V166.9M282.1,132.6V173M300.5,142.6V169.9M305.9,154.2V171.6M324,147.6V182M341.5,153.6V177.3M355.9,160.9V190.8" stroke="#000" stroke-width="1.4" fill="none"/>
<path d="M87.6,142.7V158.3M90.9,137.6V173.1M97.5,149.7V182.3M107.4,150.7V164.1M110.7,138.4V171.6M145.8,131.2V163.9M151.9,130.4V158.9M192.2,139.5V173M238.1,124.5V159.1M241.8,141.5V164.3M255.9,141.4V169.8M284.5,148.5V170.4M326.5,133.7V174.2M332.8,154.9V185.1M349.5,159.7V195M352.4,153.3V179.8" stroke="#000" stroke-width="1.6" fill="none"/>
<path d="M100.4,128.9V170M117.6,135V168.8M121.3,149.5V165.8M132,144.4V165.6M142.9,138.1V173.2M167.7,142.2V172.1M170.9,140.7V171.7M201.8,139.2V169.7M220.9,133.1V165.8M247.5,133.6V168.2M252.8,143.2V159M259.5,142V171.7M297.7,139V184.4M303.1,142.4V167.8M309.2,136.4V188.3M347.1,145V177.1M366.1,166.4V191.5" stroke="#000" stroke-width="1.8" fill="none"/>
<path d="M94.3,138.1V159.7M103.7,146.3V164.3M114,135V165M148.6,132.4V155.6M158.5,140.3V153.3M164.9,140.5V182.6M173.4,141.6V158.7M185.9,140.9V157.9M195.6,137.5V163.8M198,143.1V163.4M208.2,140.5V159.6M232.6,129.4V157.8M291.7,146.5V169M336.3,161.8V187.4M378.3,167.4V196.6M387.2,167.6V198.3M390.3,172.8V191.4" stroke="#000" stroke-width="2.0" fill="none"/>
<path d="M139.3,150.3V175.6M176.1,136.8V155.4M182.1,134.5V158.2M210.6,136.5V163.9M214.2,139.8V163.9M217.6,122V167.6M235.6,135.2V160M262,143.3V169.8M269.1,146.9V183.1M295.1,154.9V175.6M317.8,154.5V178.4M329.9,152.8V177M338.7,152.4V180.9M344.5,159.1V183.5M359.3,163.8V179.8M383.6,169.7V187.6" stroke="#000" stroke-width="2.2" fill="none"/>
<path d="M124.3,127.1V164.9M178.5,120V157.1M229.3,138.5V165.3M244.9,139.3V176.3M265.6,143.8V174.7M275.3,127.4V168.1M288.4,146V175.1M311.6,157.8V178.6M314.5,135.7V174.8M321.4,134.8V174.1M362.3,167.5V186.6M368.9,165.3V191.8" stroke="#000" stroke-width="2.4" fill="none"/>
<path d="M85.3,139.9V166.6M127.1,139.7V161.1M135.9,143.7V165M161.1,125V161M188.5,130.5V159.3M205,137.8V160.9M223.3,137.5V162.9M249.8,139.2V165.8M278.9,138V171.2M372.1,168.3V183.9M374.8,167.8V192.4M381,166.7V192.6" stroke="#000" stroke-width="2.6" fill="none"/>
<path d="M84.4,151.6 L85,151.7 L85.8,151.9 L86.8,152.1 L87.9,152.4 L89,152.7 L90,153 L91,153.4 L92,153.8 L93,154.2 L94.1,154.7 L95.1,155.1 L96,155.6 L96.9,156.1 L97.7,156.7 L98.6,157.2 L99.4,157.8 L100.2,158.2 L101,158.4 L101.8,158.4 L102.7,158.2 L103.5,158 L104.3,157.6 L105.2,157.3 L106,157 L106.8,156.7 L107.7,156.4 L108.5,156.1 L109.3,155.9 L110.2,155.7 L111,155.6 L111.8,155.7 L112.7,155.9 L113.6,156.2 L114.4,156.5 L115.2,156.8 L116,157 L116.7,157.2 L117.4,157.3 L118.1,157.5 L118.7,157.6 L119.3,157.5 L120,157.4 L120.7,157.1 L121.3,156.6 L122,156.1 L122.7,155.5 L123.3,154.9 L124,154.4 L124.7,153.9 L125.3,153.4 L126,152.9 L126.7,152.5 L127.3,152.2 L128,152 L128.7,152 L129.3,152.2 L129.9,152.4 L130.6,152.8 L131.3,153.2 L132,153.6 L132.8,154.2 L133.6,154.9 L134.4,155.7 L135.3,156.5 L136.2,157.1 L137,157.4 L137.8,157.4 L138.6,157.2 L139.4,156.8 L140.3,156.3 L141.1,155.7 L142,155 L142.9,154.2 L143.9,153.2 L144.9,152.1 L146,150.9 L147,149.9 L148,149 L149,148.2 L150,147.4 L151,146.8 L152,146.2 L153,145.8 L154,145.6 L155,145.7 L156,146 L157,146.5 L158,147.1 L159,147.8 L160,148.4 L161,149.2 L162,150.1 L163,151.1 L164,152 L165,152.7 L166,153 L167,152.9 L168.1,152.5 L169.1,151.8 L170.1,151.1 L171.1,150.5 L172,150 L172.8,149.7 L173.4,149.4 L174,149.1 L174.6,149 L175.2,148.9 L176,149 L177,149.3 L178.1,149.8 L179.4,150.4 L180.5,151.1 L181.4,151.6 L182,152 L182,152.2 L181.6,152.3 L181,152.2 L180.4,152.2 L180,152.1 L180,152 L180.5,151.9 L181.4,151.7 L182.5,151.5 L183.7,151.3 L184.9,151.1 L186,151 L187,150.9 L188,150.7 L189,150.6 L190,150.5 L191,150.5 L192,150.6 L193,150.8 L194,151.1 L195,151.6 L196,152 L197,152.3 L198,152.6 L199,152.8 L200,152.9 L201,153 L202,153.1 L203,153.1 L204,153 L205,152.8 L206,152.4 L207,152 L208,151.5 L209,151.2 L210,151 L211,151 L212,151.2 L213,151.4 L214,151.7 L215,151.9 L216,152 L217,152 L218,151.9 L219,151.9 L220,151.7 L221,151.6 L222,151.4 L223,151.2 L224,150.9 L225,150.6 L226,150.3 L227,150.1 L228,150 L229,150 L230,150.1 L231,150.2 L232,150.4 L233,150.5 L234,150.6 L235,150.6 L236,150.6 L237,150.6 L238,150.5 L239,150.5 L240,150.6 L241,150.7 L242,150.9 L243,151.2 L244,151.4 L245,151.7 L246,152 L247,152.3 L247.9,152.6 L248.9,153 L249.9,153.3 L250.9,153.7 L252,154 L253.2,154.3 L254.6,154.5 L256,154.8 L257.4,155.1 L258.8,155.3 L260,155.6 L261.1,155.9 L262.1,156.3 L263.1,156.7 L264.1,157 L265,157.4 L266,157.6 L267,157.8 L268,157.9 L269,158 L270,158 L271,158 L272,158 L273,157.9 L274,157.7 L275,157.5 L276,157.3 L277,157.1 L278,157 L279.1,157 L280.4,157.1 L281.6,157.3 L282.7,157.4 L283.6,157.5 L284,157.6 L283.8,157.6 L283,157.5 L282,157.3 L280.9,157.2 L280.2,157.1 L280,157.1 L280.5,157.2 L281.4,157.3 L282.6,157.5 L284,157.7 L285.3,157.9 L286.5,158.2 L287.6,158.5 L288.7,159 L289.8,159.5 L290.8,159.9 L291.9,160.2 L293.1,160.4 L294.3,160.2 L295.6,159.7 L297,159.1 L298.3,158.6 L299.6,158.2 L300.7,158.2 L301.8,158.5 L302.7,159.2 L303.5,160 L304.4,160.9 L305.2,161.8 L306.2,162.5 L307.2,163.3 L308.3,164.1 L309.4,164.9 L310.5,165.6 L311.6,166.1 L312.7,166.3 L313.8,166 L315,165.5 L316.1,164.7 L317.3,163.9 L318.3,163.1 L319.3,162.5 L320.1,162.1 L320.8,161.6 L321.5,161.2 L322.1,160.9 L322.8,160.7 L323.6,160.8 L324.6,161.1 L325.7,161.7 L326.8,162.4 L327.9,163.2 L329.1,164 L330.2,164.7 L331.3,165.5 L332.3,166.3 L333.3,167.2 L334.4,167.9 L335.5,168.6 L336.7,169.1 L338.1,169.3 L339.5,169.3 L341,169.2 L342.5,169 L344,169 L345.5,169.1 L346.9,169.4 L348.4,169.8 L349.8,170.3 L351.3,170.8 L352.7,171.4 L354.2,171.9 L355.7,172.5 L357.2,173.2 L358.7,173.8 L360.2,174.5 L361.6,175.1 L362.9,175.6 L364.1,176.1 L365.3,176.6 L366.3,177 L367.4,177.4 L368.4,177.7 L369.5,177.8 L370.6,177.8 L371.6,177.6 L372.7,177.3 L373.8,177 L374.9,176.8 L376,176.7 L377.1,176.9 L378.2,177.2 L379.3,177.5 L380.4,177.9 L381.5,178.2 L382.6,178.5 L383.7,178.6 L384.8,178.8 L386,178.9 L387.1,179 L388.1,179 L389.1,178.9 L390,178.8 L390.9,178.5 L391.7,178.2 L392.4,177.9 L393,177.6 L393.5,177.4" fill="none" stroke="#FF0000" stroke-width="2.0" stroke-linejoin="round" stroke-linecap="round"/>
<line x1="409.8" y1="115.3" x2="409.8" y2="201.7" stroke="#000" stroke-width="1.3" stroke-linecap="butt"/>
<line x1="409.8" y1="124.5" x2="417" y2="124.5" stroke="#000" stroke-width="1.3" stroke-linecap="butt"/>
<line x1="409.8" y1="141.5" x2="417" y2="141.5" stroke="#000" stroke-width="1.3" stroke-linecap="butt"/>
<line x1="409.8" y1="158.5" x2="417" y2="158.5" stroke="#000" stroke-width="1.3" stroke-linecap="butt"/>
<line x1="409.8" y1="175.5" x2="417" y2="175.5" stroke="#000" stroke-width="1.3" stroke-linecap="butt"/>
<line x1="409.8" y1="192.5" x2="417" y2="192.5" stroke="#000" stroke-width="1.3" stroke-linecap="butt"/>
<text x="445.3" y="128.4" font-size="12.3" text-anchor="end" fill="#000" stroke="#000" stroke-width="0.3" textLength="22.5" lengthAdjust="spacingAndGlyphs">−0.8</text>
<text x="445.3" y="145.4" font-size="12.3" text-anchor="end" fill="#000" stroke="#000" stroke-width="0.3" textLength="22.5" lengthAdjust="spacingAndGlyphs">−0.4</text>
<text x="445.3" y="162.4" font-size="12.3" text-anchor="end" fill="#000" stroke="#000" stroke-width="0.3" textLength="15.8" lengthAdjust="spacingAndGlyphs">0.0</text>
<text x="445.3" y="179.4" font-size="12.3" text-anchor="end" fill="#000" stroke="#000" stroke-width="0.3" textLength="15.8" lengthAdjust="spacingAndGlyphs">0.4</text>
<text x="445.3" y="196.4" font-size="12.3" text-anchor="end" fill="#000" stroke="#000" stroke-width="0.3" textLength="15.8" lengthAdjust="spacingAndGlyphs">0.8</text>
<text x="470.8" y="157.4" font-size="14" text-anchor="middle" fill="#111" stroke="#111" stroke-width="0.3" textLength="25" lengthAdjust="spacingAndGlyphs" transform="rotate(-90 470.8 157.4)">CGT</text>
<path d="M265.5,185 Q269.4,195.4 273,204 L266.8,200.6 L266.8,221.7 L264.2,221.7 L264.2,200.6 L258,204 Q261.6,195.4 265.5,185 Z" fill="#000"/>
<text x="286.5" y="210.6" font-size="14.5" text-anchor="start" fill="#111" stroke="#111" stroke-width="0.3" textLength="57.5" lengthAdjust="spacingAndGlyphs">Negative</text>
<text x="136.9" y="118" font-size="13" text-anchor="start" fill="#222" stroke="#222" stroke-width="0.1" textLength="14.7" lengthAdjust="spacingAndGlyphs">(b)</text>
<path d="M89.3,238.4 L93.9,237.8 L98.5,239.4 L103.2,241.8 L106.3,244.6 L108.7,236.3 L110.9,242.5 L114,244.6 L117.1,248.6 L120.2,247.7 L123.9,246.5 L126.4,247.7 L128.8,253.3 L131,248.6 L133.2,242.5 L135,248.6 L138.1,251.7 L141.2,253.3 L144.3,250.2 L147.4,254.8 L151.1,251.7 L155.7,252.7 L159.8,253.3 L162.8,243.4 L164.7,253.3 L168.1,256.4 L171.2,258.8 L174.3,259.5 L177.4,260.1 L180.5,256.4 L183.6,253.3 L186,256.4 L188.2,248.6 L190,256.4 L192.8,261 L195,256.4 L197.5,261 L200.6,262.6 L203.6,265 L206.7,267.2 L209.8,266.3 L212.9,263.2 L216,261.9 L219.7,262.6 L223.7,264.1 L228.4,265 L233,264.1 L237.7,263.2 L240.7,265.6 L243.8,269.4 L246.9,266.3 L250,265.6 L250.8,267.2 L255.5,265.6 L258.5,267.2 L261.6,270.3 L264.7,273.4 L267.8,275.5 L270.9,274.9 L274,279.6 L277.1,285.7 L280.2,287.3 L283.3,291 L286.4,291.9 L289.5,291 L292.6,294.1 L295.6,293.5 L298.7,291 L301.8,289.8 L305.5,289.8 L308.6,285.7 L311.7,282.6 L315.7,287.3 L320.4,286.7 L323.5,291 L328.1,291 L332.7,288.8 L337.4,285.7 L342,284.8 L346.6,284.8 L351.3,286.7 L357.5,288.8 L363.6,285.7 L368.3,283.6 L372.9,285.7 L379.1,286.4 L385.3,286.7 L391.5,286.7 L397.7,285.7 L402.3,284.2 L406.9,286.7 L409.4,286.7" fill="none" stroke="#808080" stroke-width="1.9" stroke-linejoin="round" stroke-linecap="round"/>
<path d="M86.8,236.3 L89.3,231.6 L93.9,231 L98.5,231 L101.6,229.2 L104.1,231.6 L107.2,230.4 L110.3,235.3 L113.4,238.4 L116.5,242.5 L119.6,250.2 L123.3,247.1 L126.4,247.7 L129.5,245.5 L132.6,247.1 L135.6,243.4 L138.7,248.6 L141.8,250.2 L144.9,246.5 L148,249.6 L154.2,250.8 L160.4,251.7 L166.6,250.2 L172.7,251.1 L178.9,251.7 L183.6,249.6 L186.6,256.4 L191.3,259.5 L194.4,262.6 L197.5,251.7 L200.6,257.9 L203.6,264.1 L206.7,265.6 L209.8,268.1 L212.9,262.6 L215.4,256.4 L217.6,257.9 L219.7,255.7 L222.2,261 L225.3,263.2 L228.4,262.6 L231.5,265 L234.6,263.2 L237.7,264.1 L240.1,262.6 L242,247.1 L243.8,244.6 L246.9,245.5 L250,244.9 L250.8,244.6 L253.9,251.7 L257,259.5 L260.1,267.2 L263.2,273.4 L266.3,279.6 L269.4,282.6 L274,283.3 L278.6,284.2 L283.3,283.6 L287.9,284.8 L292.6,279.6 L296.3,275.5 L300.3,281.7 L303.4,285.7 L306.5,287.3 L314.2,287.3 L320.4,287.3 L326.6,288.8 L332.7,289.1 L338.9,289.8 L345.1,288.8 L351.3,287.9 L357.5,288.8 L363.6,287.3 L369.8,287.3 L376,286.7 L382.2,287.3 L388.4,286.7 L394.6,286.4 L400.7,287.3 L403.8,288.5 L406.9,287.3 L409.4,285.7" fill="none" stroke="#0000FF" stroke-width="2.0" stroke-linejoin="round" stroke-linecap="round"/>
<line x1="84.2" y1="221.8" x2="84.2" y2="309.6" stroke="#0000FF" stroke-width="1.3" stroke-linecap="butt"/>
<line x1="84.2" y1="222.4" x2="77" y2="222.4" stroke="#0000FF" stroke-width="1.3" stroke-linecap="butt"/>
<line x1="84.2" y1="251.3" x2="77" y2="251.3" stroke="#0000FF" stroke-width="1.3" stroke-linecap="butt"/>
<line x1="84.2" y1="280.1" x2="77" y2="280.1" stroke="#0000FF" stroke-width="1.3" stroke-linecap="butt"/>
<line x1="84.2" y1="309" x2="77" y2="309" stroke="#0000FF" stroke-width="1.3" stroke-linecap="butt"/>
<line x1="84.2" y1="236.8" x2="80.3" y2="236.8" stroke="#0000FF" stroke-width="1.3" stroke-linecap="butt"/>
<line x1="84.2" y1="265.7" x2="80.3" y2="265.7" stroke="#0000FF" stroke-width="1.3" stroke-linecap="butt"/>
<line x1="84.2" y1="294.6" x2="80.3" y2="294.6" stroke="#0000FF" stroke-width="1.3" stroke-linecap="butt"/>
<text x="70.4" y="226.8" font-size="12.3" text-anchor="end" fill="#0000FF" stroke="#0000FF" stroke-width="0.3" textLength="12.7" lengthAdjust="spacingAndGlyphs">40</text>
<text x="70.4" y="255.7" font-size="12.3" text-anchor="end" fill="#0000FF" stroke="#0000FF" stroke-width="0.3" textLength="12.7" lengthAdjust="spacingAndGlyphs">30</text>
<text x="70.4" y="284.5" font-size="12.3" text-anchor="end" fill="#0000FF" stroke="#0000FF" stroke-width="0.3" textLength="12.7" lengthAdjust="spacingAndGlyphs">20</text>
<text x="70.4" y="313.4" font-size="12.3" text-anchor="end" fill="#0000FF" stroke="#0000FF" stroke-width="0.3" textLength="12.7" lengthAdjust="spacingAndGlyphs">10</text>
<line x1="409.8" y1="221.8" x2="409.8" y2="309.6" stroke="#000" stroke-width="1.3" stroke-linecap="butt"/>
<line x1="409.8" y1="222.4" x2="417" y2="222.4" stroke="#000" stroke-width="1.3" stroke-linecap="butt"/>
<line x1="409.8" y1="239.7" x2="417" y2="239.7" stroke="#000" stroke-width="1.3" stroke-linecap="butt"/>
<line x1="409.8" y1="257" x2="417" y2="257" stroke="#000" stroke-width="1.3" stroke-linecap="butt"/>
<line x1="409.8" y1="274.4" x2="417" y2="274.4" stroke="#000" stroke-width="1.3" stroke-linecap="butt"/>
<line x1="409.8" y1="291.7" x2="417" y2="291.7" stroke="#000" stroke-width="1.3" stroke-linecap="butt"/>
<line x1="409.8" y1="309" x2="417" y2="309" stroke="#000" stroke-width="1.3" stroke-linecap="butt"/>
<line x1="409.8" y1="231.1" x2="413.7" y2="231.1" stroke="#000" stroke-width="1.3" stroke-linecap="butt"/>
<line x1="409.8" y1="248.4" x2="413.7" y2="248.4" stroke="#000" stroke-width="1.3" stroke-linecap="butt"/>
<line x1="409.8" y1="265.7" x2="413.7" y2="265.7" stroke="#000" stroke-width="1.3" stroke-linecap="butt"/>
<line x1="409.8" y1="283" x2="413.7" y2="283" stroke="#000" stroke-width="1.3" stroke-linecap="butt"/>
<line x1="409.8" y1="300.3" x2="413.7" y2="300.3" stroke="#000" stroke-width="1.3" stroke-linecap="butt"/>
<text x="438.9" y="226.3" font-size="12.3" text-anchor="end" fill="#000" stroke="#000" stroke-width="0.3" textLength="19" lengthAdjust="spacingAndGlyphs">160</text>
<text x="438.9" y="243.6" font-size="12.3" text-anchor="end" fill="#000" stroke="#000" stroke-width="0.3" textLength="19" lengthAdjust="spacingAndGlyphs">140</text>
<text x="438.9" y="260.9" font-size="12.3" text-anchor="end" fill="#000" stroke="#000" stroke-width="0.3" textLength="19" lengthAdjust="spacingAndGlyphs">120</text>
<text x="438.9" y="278.3" font-size="12.3" text-anchor="end" fill="#000" stroke="#000" stroke-width="0.3" textLength="19" lengthAdjust="spacingAndGlyphs">100</text>
<text x="438.9" y="295.6" font-size="12.3" text-anchor="end" fill="#000" stroke="#000" stroke-width="0.3" textLength="12.7" lengthAdjust="spacingAndGlyphs">80</text>
<text x="438.9" y="312.9" font-size="12.3" text-anchor="end" fill="#000" stroke="#000" stroke-width="0.3" textLength="12.7" lengthAdjust="spacingAndGlyphs">60</text>
<text x="14.3" y="264.7" font-size="13.4" text-anchor="middle" fill="#0000FF" stroke="#0000FF" stroke-width="0.3" textLength="112.2" lengthAdjust="spacingAndGlyphs" transform="rotate(-90 14.3 264.7)">LJW10 loess section</text>
<text x="35.4" y="263" font-size="12.6" text-anchor="middle" fill="#0000FF" stroke="#0000FF" stroke-width="0.3" textLength="55.4" lengthAdjust="spacingAndGlyphs" transform="rotate(-90 35.4 263)">χ<tspan font-size="9" dy="3">ARM</tspan><tspan dy="-3">/SIRM</tspan></text>
<text x="470" y="270" font-size="13.8" text-anchor="middle" fill="#111" stroke="#111" stroke-width="0.3" textLength="114.7" lengthAdjust="spacingAndGlyphs" transform="rotate(-90 470 270)">Summer percipitation</text>
<path d="M265.1,292.4 Q269.1,302.1 272.7,310 L266.5,306.6 L266.5,328.7 L263.8,328.7 L263.8,306.6 L257.5,310 Q261.1,302.1 265.1,292.4 Z" fill="#0000FF"/>
<text x="287.6" y="320.9" font-size="14.5" text-anchor="start" fill="#111" stroke="#111" stroke-width="0.3" textLength="41.9" lengthAdjust="spacingAndGlyphs">Wetter</text>
<text x="136.9" y="234.6" font-size="13" text-anchor="start" fill="#222" stroke="#222" stroke-width="0.1" textLength="14.2" lengthAdjust="spacingAndGlyphs">(c)</text>
<path d="M85.2,372.4 L88.1,342.7 L91,360.7 L94,366.5 L96.9,340.4 L99.5,380.5 L101.2,342.1 L104.7,368 L114.3,347 L117.2,376.1 L120.7,373.8 L125,357.8 L133.2,363 L139,361.6 L144.1,369.5 L150.2,371.5 L152.8,373.8 L154.5,359.9 L164.4,363.6 L172,350.5 L176.9,366.5 L189.5,363 L192.4,373.5 L195.9,370.9 L213.6,354.9 L232.5,371.8 L245.3,352 L252.6,364.2 L271,382.3 L278.4,373.3 L282,384.8 L302.2,377 L311.8,372.4 L328,372.9 L344,372.9 L353,382.5 L358,387.5 L360.9,389.2 L364.1,382 L369.9,397.7 L377.2,378.2 L385,396.8 L392.6,377.6 L400.2,398 L407.8,396.2" fill="none" stroke="#808000" stroke-width="2.0" stroke-linejoin="round" stroke-linecap="round"/>
<circle cx="85.2" cy="372.4" r="1.8" fill="#fff" stroke="#0a0a18" stroke-width="1.1"/>
<circle cx="88.1" cy="342.7" r="1.8" fill="#fff" stroke="#0a0a18" stroke-width="1.1"/>
<circle cx="91" cy="360.7" r="1.8" fill="#fff" stroke="#0a0a18" stroke-width="1.1"/>
<circle cx="94" cy="366.5" r="1.8" fill="#fff" stroke="#0a0a18" stroke-width="1.1"/>
<circle cx="96.9" cy="340.4" r="1.8" fill="#fff" stroke="#0a0a18" stroke-width="1.1"/>
<circle cx="99.5" cy="380.5" r="1.8" fill="#fff" stroke="#0a0a18" stroke-width="1.1"/>
<circle cx="101.2" cy="342.1" r="1.8" fill="#fff" stroke="#0a0a18" stroke-width="1.1"/>
<circle cx="104.7" cy="368" r="1.8" fill="#fff" stroke="#0a0a18" stroke-width="1.1"/>
<circle cx="114.3" cy="347" r="1.8" fill="#fff" stroke="#0a0a18" stroke-width="1.1"/>
<circle cx="117.2" cy="376.1" r="1.8" fill="#fff" stroke="#0a0a18" stroke-width="1.1"/>
<circle cx="120.7" cy="373.8" r="1.8" fill="#fff" stroke="#0a0a18" stroke-width="1.1"/>
<circle cx="125" cy="357.8" r="1.8" fill="#fff" stroke="#0a0a18" stroke-width="1.1"/>
<circle cx="133.2" cy="363" r="1.8" fill="#fff" stroke="#0a0a18" stroke-width="1.1"/>
<circle cx="139" cy="361.6" r="1.8" fill="#fff" stroke="#0a0a18" stroke-width="1.1"/>
<circle cx="144.1" cy="369.5" r="1.8" fill="#fff" stroke="#0a0a18" stroke-width="1.1"/>
<circle cx="150.2" cy="371.5" r="1.8" fill="#fff" stroke="#0a0a18" stroke-width="1.1"/>
<circle cx="152.8" cy="373.8" r="1.8" fill="#fff" stroke="#0a0a18" stroke-width="1.1"/>
<circle cx="154.5" cy="359.9" r="1.8" fill="#fff" stroke="#0a0a18" stroke-width="1.1"/>
<circle cx="164.4" cy="363.6" r="1.8" fill="#fff" stroke="#0a0a18" stroke-width="1.1"/>
<circle cx="172" cy="350.5" r="1.8" fill="#fff" stroke="#0a0a18" stroke-width="1.1"/>
<circle cx="176.9" cy="366.5" r="1.8" fill="#fff" stroke="#0a0a18" stroke-width="1.1"/>
<circle cx="189.5" cy="363" r="1.8" fill="#fff" stroke="#0a0a18" stroke-width="1.1"/>
<circle cx="192.4" cy="373.5" r="1.8" fill="#fff" stroke="#0a0a18" stroke-width="1.1"/>
<circle cx="195.9" cy="370.9" r="1.8" fill="#fff" stroke="#0a0a18" stroke-width="1.1"/>
<circle cx="213.6" cy="354.9" r="1.8" fill="#fff" stroke="#0a0a18" stroke-width="1.1"/>
<circle cx="232.5" cy="371.8" r="1.8" fill="#fff" stroke="#0a0a18" stroke-width="1.1"/>
<circle cx="245.3" cy="352" r="1.8" fill="#fff" stroke="#0a0a18" stroke-width="1.1"/>
<circle cx="252.6" cy="364.2" r="1.8" fill="#fff" stroke="#0a0a18" stroke-width="1.1"/>
<circle cx="271" cy="382.3" r="1.8" fill="#fff" stroke="#0a0a18" stroke-width="1.1"/>
<circle cx="278.4" cy="373.3" r="1.8" fill="#fff" stroke="#0a0a18" stroke-width="1.1"/>
<circle cx="282" cy="384.8" r="1.8" fill="#fff" stroke="#0a0a18" stroke-width="1.1"/>
<circle cx="302.2" cy="377" r="1.8" fill="#fff" stroke="#0a0a18" stroke-width="1.1"/>
<circle cx="311.8" cy="372.4" r="1.8" fill="#fff" stroke="#0a0a18" stroke-width="1.1"/>
<circle cx="328" cy="372.9" r="1.8" fill="#fff" stroke="#0a0a18" stroke-width="1.1"/>
<circle cx="344" cy="372.9" r="1.8" fill="#fff" stroke="#0a0a18" stroke-width="1.1"/>
<circle cx="353" cy="382.5" r="1.8" fill="#fff" stroke="#0a0a18" stroke-width="1.1"/>
<circle cx="358" cy="387.5" r="1.8" fill="#fff" stroke="#0a0a18" stroke-width="1.1"/>
<circle cx="360.9" cy="389.2" r="1.8" fill="#fff" stroke="#0a0a18" stroke-width="1.1"/>
<circle cx="364.1" cy="382" r="1.8" fill="#fff" stroke="#0a0a18" stroke-width="1.1"/>
<circle cx="369.9" cy="397.7" r="1.8" fill="#fff" stroke="#0a0a18" stroke-width="1.1"/>
<circle cx="377.2" cy="378.2" r="1.8" fill="#fff" stroke="#0a0a18" stroke-width="1.1"/>
<circle cx="385" cy="396.8" r="1.8" fill="#fff" stroke="#0a0a18" stroke-width="1.1"/>
<circle cx="392.6" cy="377.6" r="1.8" fill="#fff" stroke="#0a0a18" stroke-width="1.1"/>
<circle cx="400.2" cy="398" r="1.8" fill="#fff" stroke="#0a0a18" stroke-width="1.1"/>
<circle cx="407.8" cy="396.2" r="1.8" fill="#fff" stroke="#0a0a18" stroke-width="1.1"/>
<line x1="84.2" y1="328.9" x2="84.2" y2="416.6" stroke="#000" stroke-width="1.3" stroke-linecap="butt"/>
<line x1="84.2" y1="340.4" x2="77" y2="340.4" stroke="#000" stroke-width="1.3" stroke-linecap="butt"/>
<line x1="84.2" y1="362" x2="77" y2="362" stroke="#000" stroke-width="1.3" stroke-linecap="butt"/>
<line x1="84.2" y1="383.6" x2="77" y2="383.6" stroke="#000" stroke-width="1.3" stroke-linecap="butt"/>
<line x1="84.2" y1="405.2" x2="77" y2="405.2" stroke="#000" stroke-width="1.3" stroke-linecap="butt"/>
<line x1="84.2" y1="329.6" x2="80.3" y2="329.6" stroke="#000" stroke-width="1.3" stroke-linecap="butt"/>
<line x1="84.2" y1="351.2" x2="80.3" y2="351.2" stroke="#000" stroke-width="1.3" stroke-linecap="butt"/>
<line x1="84.2" y1="372.8" x2="80.3" y2="372.8" stroke="#000" stroke-width="1.3" stroke-linecap="butt"/>
<line x1="84.2" y1="394.4" x2="80.3" y2="394.4" stroke="#000" stroke-width="1.3" stroke-linecap="butt"/>
<line x1="84.2" y1="416" x2="80.3" y2="416" stroke="#000" stroke-width="1.3" stroke-linecap="butt"/>
<text x="71.2" y="344.8" font-size="12.3" text-anchor="end" fill="#000" stroke="#000" stroke-width="0.3" textLength="22.5" lengthAdjust="spacingAndGlyphs">−0.4</text>
<text x="71.2" y="366.4" font-size="12.3" text-anchor="end" fill="#000" stroke="#000" stroke-width="0.3" textLength="22.5" lengthAdjust="spacingAndGlyphs">−0.6</text>
<text x="71.2" y="388" font-size="12.3" text-anchor="end" fill="#000" stroke="#000" stroke-width="0.3" textLength="22.5" lengthAdjust="spacingAndGlyphs">−0.8</text>
<text x="71.2" y="409.6" font-size="12.3" text-anchor="end" fill="#000" stroke="#000" stroke-width="0.3" textLength="22.5" lengthAdjust="spacingAndGlyphs">−1.0</text>
<text x="17.4" y="376.1" font-size="13.7" text-anchor="middle" fill="#111" stroke="#111" stroke-width="0.3" textLength="63.8" lengthAdjust="spacingAndGlyphs" transform="rotate(-90 17.4 376.1)">Index of the</text>
<text x="34.4" y="374.7" font-size="13.7" text-anchor="middle" fill="#111" stroke="#111" stroke-width="0.3" textLength="88.4" lengthAdjust="spacingAndGlyphs" transform="rotate(-90 34.4 374.7)">Westerlies (PDI)</text>
<path d="M263.6,380 Q267.6,389.5 271.2,397.2 L264.9,393.8 L264.9,416 L262.3,416 L262.3,393.8 L256,397.2 Q259.6,389.5 263.6,380 Z" fill="#A0A030"/>
<text x="276.4" y="408" font-size="14.5" text-anchor="start" fill="#111" stroke="#111" stroke-width="0.3" textLength="66.2" lengthAdjust="spacingAndGlyphs">Intensified</text>
<text x="136.9" y="343.5" font-size="13" text-anchor="start" fill="#222" stroke="#222" stroke-width="0.1" textLength="14.5" lengthAdjust="spacingAndGlyphs">(d)</text>
<path d="M87,443.7 L89.9,441.4 L92.9,441 L95.8,440.1 L98.7,442.4 L101.7,440.5 L104.6,444.4 L107.5,443.5 L110.5,445.4 L113.4,446.1 L116.3,448.1 L119.3,445.8 L122.2,447.7 L125.1,448.1 L128.1,449.9 L131,448.7 L133.9,450 L136.9,450 L139.8,451.4 L142.7,452.3 L145.7,451.2 L148.6,453.3 L151.5,453.4 L154.5,453.4 L157.4,454 L160.3,453 L163.3,453.8 L166.2,453.4 L169.2,454.2 L172.1,455.2 L175,454.6 L178,455.2 L180.9,455.3 L183.8,455.5 L186.8,455.2 L189.7,454.6 L192.6,452.7 L195.6,452.6 L198.5,453.4 L201.4,453.8 L204.4,454.2 L207.3,454.7 L210.2,455.9 L213.2,459.1 L216.1,458.9 L219,459.5 L222,461.4 L224.9,464.1 L227.8,463.4 L230.8,464.7 L233.7,465.3 L236.6,465.7 L239.6,465.9 L242.5,467.5 L245.4,468.6 L248.4,470.2 L251.3,471.3 L254.2,472.2 L257.2,472.2 L260.1,473 L263,472 L266,473.9 L268.9,473.6 L271.8,473.2 L274.8,474.1 L277.7,474 L280.6,475.2 L283.6,475.9 L286.5,476.7 L289.4,474.1 L292.4,474.4 L295.3,475.4 L298.2,476.2 L301.2,477.1 L304.1,476.9 L307,475.2 L310,476.7 L312.9,477.8 L315.8,477.5 L318.8,477.9 L321.7,476.9 L324.6,476.8 L327.6,476.9 L330.5,476.9 L333.5,476.5 L336.4,475.8 L339.3,474.6 L342.3,474.9 L345.2,474.1 L348.1,474.3 L351.1,474 L354,472.9 L356.9,472.2 L359.9,471.7 L362.8,472.2 L365.7,471.7 L368.7,471 L371.6,471.1 L374.5,470.2 L377.5,471 L380.4,470.4 L383.3,472.9 L386.3,473.5 L389.2,474.8 L392.1,474.6 L395.1,476.6 L398,477.1 L400.9,475.7 L403.9,476.2 L406.8,476.5 L406.8,515.9 L403.9,517.7 L400.9,517 L398,518.6 L395.1,517.2 L392.1,513.5 L389.2,512.1 L386.3,510.8 L383.3,505.9 L380.4,503.8 L377.5,504.1 L374.5,501.4 L371.6,501.3 L368.7,500.4 L365.7,500 L362.8,500.2 L359.9,503.1 L356.9,501.4 L354,502.8 L351.1,502.1 L348.1,503.6 L345.2,503.4 L342.3,503.1 L339.3,503.2 L336.4,501.4 L333.5,503.3 L330.5,503.8 L327.6,504.8 L324.6,503.8 L321.7,504.8 L318.8,504.1 L315.8,504.5 L312.9,504.5 L310,504.7 L307,503.8 L304.1,504.2 L301.2,505.3 L298.2,504.3 L295.3,503.9 L292.4,502.3 L289.4,502.8 L286.5,503.3 L283.6,502.2 L280.6,503.2 L277.7,501.7 L274.8,501.6 L271.8,501.1 L268.9,503 L266,501.4 L263,499.9 L260.1,498.6 L257.2,501.6 L254.2,500 L251.3,500.9 L248.4,499.7 L245.4,499.4 L242.5,497.9 L239.6,497.5 L236.6,495.7 L233.7,495.3 L230.8,494.3 L227.8,494.6 L224.9,493.9 L222,493.3 L219,492.7 L216.1,492.4 L213.2,493 L210.2,491.4 L207.3,487.8 L204.4,488.8 L201.4,488.7 L198.5,487.5 L195.6,486.9 L192.6,485.6 L189.7,484.7 L186.8,484.2 L183.8,483.5 L180.9,482.7 L178,481 L175,480.1 L172.1,479.5 L169.2,480 L166.2,478.2 L163.3,479.4 L160.3,478.3 L157.4,479.3 L154.5,479 L151.5,477.4 L148.6,477.8 L145.7,478 L142.7,478.7 L139.8,476.7 L136.9,477.5 L133.9,478 L131,477.3 L128.1,474.3 L125.1,477.2 L122.2,476.8 L119.3,475.3 L116.3,476.1 L113.4,476.6 L110.5,477.3 L107.5,474.9 L104.6,476 L101.7,474.7 L98.7,475.8 L95.8,474 L92.9,474.4 L89.9,473.1 L87,470.8Z" fill="#D2EAFA"/>
<path d="M87,445 L89.9,445 L92.9,443 L95.8,445.8 L98.7,443.9 L101.7,445.3 L104.6,447.1 L107.5,446.7 L110.5,447.9 L113.4,449 L116.3,450.8 L119.3,452.7 L122.2,451.4 L125.1,450.9 L128.1,452.8 L131,452.5 L133.9,453.6 L136.9,455.2 L139.8,454.3 L142.7,455.4 L145.7,455 L148.6,455.9 L151.5,456.5 L154.5,455.9 L157.4,456.7 L160.3,457.1 L163.3,457.1 L166.2,457 L169.2,457.1 L172.1,458.5 L175,458.8 L178,461.3 L180.9,458.1 L183.8,460.6 L186.8,460.7 L189.7,460.7 L192.6,459.3 L195.6,457.6 L198.5,458.2 L201.4,459.8 L204.4,460.2 L207.3,462.2 L210.2,461.2 L213.2,465.2 L216.1,466.2 L219,465.9 L222,467.8 L224.9,468.4 L227.8,468.7 L230.8,470.3 L233.7,471.9 L236.6,471.7 L239.6,472.6 L242.5,473.8 L245.4,475.3 L248.4,476.9 L251.3,476.3 L254.2,477.8 L257.2,478.1 L260.1,476.7 L263,478.2 L266,478.8 L268.9,479.2 L271.8,479.8 L274.8,478.2 L277.7,480.2 L280.6,479.9 L283.6,479.6 L286.5,481.5 L289.4,481.9 L292.4,481.1 L295.3,482.6 L298.2,481.9 L301.2,482.6 L304.1,481.8 L307,484.1 L310,480.8 L312.9,483 L315.8,483.8 L318.8,481.6 L321.7,482.8 L324.6,482.7 L327.6,483.3 L330.5,483.4 L333.5,481.8 L336.4,480.6 L339.3,482.3 L342.3,481.7 L345.2,479.9 L348.1,480.1 L351.1,479.8 L354,479.7 L356.9,479.1 L359.9,479.8 L362.8,477 L365.7,479 L368.7,478.3 L371.6,477.7 L374.5,478.6 L377.5,475.6 L380.4,479 L383.3,480 L386.3,480.3 L389.2,483.1 L392.1,483.8 L395.1,487.3 L398,487.1 L400.9,485.8 L403.9,484.7 L406.8,484.6 L406.8,506.5 L403.9,508.2 L400.9,508.6 L398,508.5 L395.1,507.9 L392.1,505.4 L389.2,503.1 L386.3,501.6 L383.3,499.5 L380.4,495.2 L377.5,495.4 L374.5,494.5 L371.6,495.8 L368.7,495.5 L365.7,494 L362.8,495.5 L359.9,496.3 L356.9,495.3 L354,495.4 L351.1,495.1 L348.1,496 L345.2,497.2 L342.3,497 L339.3,496.8 L336.4,498.2 L333.5,495.9 L330.5,496.6 L327.6,496.5 L324.6,498.3 L321.7,498.7 L318.8,498.7 L315.8,498.6 L312.9,498 L310,497.1 L307,498.7 L304.1,498.9 L301.2,498.5 L298.2,497.4 L295.3,497.8 L292.4,498.3 L289.4,497.8 L286.5,496.2 L283.6,496.1 L280.6,496.4 L277.7,495 L274.8,495.2 L271.8,495.8 L268.9,495.2 L266,493.1 L263,495.6 L260.1,494.8 L257.2,497.2 L254.2,494.2 L251.3,494.2 L248.4,494.2 L245.4,492.9 L242.5,491 L239.6,490.9 L236.6,491.2 L233.7,488.7 L230.8,488.8 L227.8,490 L224.9,487.8 L222,488.2 L219,487.1 L216.1,486.4 L213.2,483.5 L210.2,484.2 L207.3,483.6 L204.4,483.4 L201.4,482.6 L198.5,481.8 L195.6,480.3 L192.6,481.6 L189.7,480.4 L186.8,481.8 L183.8,476.9 L180.9,476.5 L178,476.8 L175,475.2 L172.1,475.8 L169.2,475.9 L166.2,476.1 L163.3,474 L160.3,475.9 L157.4,474.8 L154.5,475.3 L151.5,473.9 L148.6,474.3 L145.7,474.5 L142.7,473.1 L139.8,475 L136.9,472.9 L133.9,473.9 L131,473.9 L128.1,473.1 L125.1,472.6 L122.2,472.1 L119.3,472.9 L116.3,471.9 L113.4,471.6 L110.5,474.9 L107.5,471.9 L104.6,471.8 L101.7,471.7 L98.7,471.7 L95.8,470.7 L92.9,469.7 L89.9,469.2 L87,468.7Z" fill="#B4DCF5"/>
<path d="M86.8,445.5 L91.7,444 L97,447.7 L101.6,448.6 L107.2,447.1 L112.5,452.7 L117.1,453.9 L121.7,457.9 L126.4,465 L131,461 L135.6,459.5 L140.3,462.6 L144.9,459.5 L149.6,457 L154.2,460.1 L160.4,458.8 L165,458.5 L169.6,461 L174.3,464.1 L178.9,466.3 L183.6,468.1 L188.2,466.3 L192.8,462.6 L197.5,458.8 L202.1,461.9 L206.7,465 L211.4,463.2 L216,468.7 L220.6,471.8 L225.3,469.4 L229.9,471.8 L234.6,471.2 L239.2,473.4 L243.8,475.5 L246.2,478 L252.4,480.5 L258.5,482.6 L264.7,481.1 L270.9,479.6 L277.1,483.6 L283.3,482.6 L289.5,484.2 L295.6,483.6 L301.8,485.1 L308,486.7 L314.2,487.3 L320.4,486.7 L326.6,485.7 L332.7,484.2 L338.9,485.7 L345.1,482.6 L349.7,484.2 L354.4,478 L359,482.6 L363.6,480.5 L368.3,482.6 L372.9,487.3 L377.6,490.4 L382.2,493.5 L386.8,498.1 L391.5,504.3 L393.6,509.5 L397.7,508.3 L402.3,505.8 L406.9,501.2" fill="none" stroke="#E8505A" stroke-width="2.0" stroke-linejoin="round" stroke-linecap="round"/>
<path d="M86.8,461 L90.8,465.6 L95.5,467.2 L100.1,467.2 L104.7,465 L110.9,465.6 L118.6,467.2 L126.4,467.2 L134.1,467.2 L140.3,467.8 L146.5,465.6 L152.6,465.6 L158.8,464.7 L165,465.6 L172.7,466.3 L178.9,468.1 L185.1,471.8 L191.3,474 L197.5,473.4 L203.6,471.8 L209.8,472.8 L216,474 L222.2,474.9 L228.4,475.8 L234.6,476.5 L240.7,478.6 L246.2,479.6 L252.4,482.6 L258.5,484.2 L264.7,484.8 L270.9,485.1 L277.1,485.7 L283.3,486.7 L289.5,487.3 L295.6,487.9 L301.8,488.8 L308,488.8 L314.2,489.8 L320.4,490.4 L326.6,489.8 L332.7,490.4 L338.9,489.8 L345.1,490.4 L351.3,489.8 L357.5,488.8 L363.6,487.3 L369.8,485.7 L376,484.2 L382.2,485.7 L388.4,488.8 L394.6,491 L399.2,491.9 L403.8,489.8 L406.9,487.3" fill="none" stroke="#2A4350" stroke-width="2.0" stroke-linejoin="round" stroke-linecap="round"/>
<path d="M86.8,456.4 L92.4,458.5 L98.5,459.5 L106.3,459.5 L112.5,460.1 L120.2,462.6 L126.4,460.1 L132.6,460.4 L140.3,460.1 L146.5,464.1 L154.2,467.2 L160.4,466.6 L166.6,466.3 L172.7,466.3 L178.9,468.7 L185.1,470.3 L191.3,471.8 L197.5,473.4 L203.6,475.5 L209.8,477.4 L216,479.6 L220.6,481.7 L225.3,483.3 L231.5,481.7 L237.7,482 L243.8,483.6 L246.2,483.6 L252.4,484.2 L258.5,485.1 L264.7,486.7 L270.9,486.4 L277.1,486.7 L283.3,488.8 L289.5,491 L295.6,491.9 L301.8,492.8 L306.5,491 L311.1,492.8 L315.7,494.1 L320.4,493.5 L326.6,492.8 L332.7,491 L338.9,491.9 L345.1,490.4 L351.3,488.8 L357.5,487.3 L363.6,485.7 L369.8,484.2 L376,485.1 L382.2,488.8 L386.8,491.9 L391.5,495 L396.1,498.1 L400.7,497.2 L406.9,495" fill="none" stroke="#1470F0" stroke-width="2.1" stroke-linejoin="round" stroke-linecap="round"/>
<line x1="84.2" y1="436.2" x2="84.2" y2="523.8" stroke="#000" stroke-width="1.3" stroke-linecap="butt"/>
<line x1="84.2" y1="436.9" x2="77.8" y2="436.9" stroke="#000" stroke-width="1.3" stroke-linecap="butt"/>
<line x1="84.2" y1="471.4" x2="77.8" y2="471.4" stroke="#000" stroke-width="1.3" stroke-linecap="butt"/>
<line x1="84.2" y1="505.9" x2="77.8" y2="505.9" stroke="#000" stroke-width="1.3" stroke-linecap="butt"/>
<line x1="84.2" y1="454.1" x2="80.6" y2="454.1" stroke="#000" stroke-width="1.3" stroke-linecap="butt"/>
<line x1="84.2" y1="488.7" x2="80.6" y2="488.7" stroke="#000" stroke-width="1.3" stroke-linecap="butt"/>
<line x1="84.2" y1="523.2" x2="80.6" y2="523.2" stroke="#000" stroke-width="1.3" stroke-linecap="butt"/>
<text x="77.2" y="441.3" font-size="12.3" text-anchor="end" fill="#000" stroke="#000" stroke-width="0.3" textLength="30.7" lengthAdjust="spacingAndGlyphs">−0.52</text>
<text x="77.2" y="475.8" font-size="12.3" text-anchor="end" fill="#000" stroke="#000" stroke-width="0.3" textLength="30.7" lengthAdjust="spacingAndGlyphs">−0.50</text>
<text x="77.2" y="510.3" font-size="12.3" text-anchor="end" fill="#000" stroke="#000" stroke-width="0.3" textLength="30.7" lengthAdjust="spacingAndGlyphs">−0.48</text>
<line x1="410.4" y1="436.7" x2="410.4" y2="523.6" stroke="#EE3338" stroke-width="1.3" stroke-linecap="butt"/>
<line x1="410.4" y1="437.3" x2="417.6" y2="437.3" stroke="#EE3338" stroke-width="1.3" stroke-linecap="butt"/>
<line x1="410.4" y1="461.8" x2="417.6" y2="461.8" stroke="#EE3338" stroke-width="1.3" stroke-linecap="butt"/>
<line x1="410.4" y1="486.2" x2="417.6" y2="486.2" stroke="#EE3338" stroke-width="1.3" stroke-linecap="butt"/>
<line x1="410.4" y1="510.7" x2="417.6" y2="510.7" stroke="#EE3338" stroke-width="1.3" stroke-linecap="butt"/>
<line x1="410.4" y1="449.5" x2="414.3" y2="449.5" stroke="#EE3338" stroke-width="1.3" stroke-linecap="butt"/>
<line x1="410.4" y1="474" x2="414.3" y2="474" stroke="#EE3338" stroke-width="1.3" stroke-linecap="butt"/>
<line x1="410.4" y1="498.4" x2="414.3" y2="498.4" stroke="#EE3338" stroke-width="1.3" stroke-linecap="butt"/>
<line x1="410.4" y1="522.9" x2="414.3" y2="522.9" stroke="#EE3338" stroke-width="1.3" stroke-linecap="butt"/>
<text x="452.2" y="442.6" font-size="12.3" text-anchor="end" fill="#EE3338" stroke="#EE3338" stroke-width="0.3" textLength="30.8" lengthAdjust="spacingAndGlyphs">−0.56</text>
<text x="452.2" y="467.1" font-size="12.3" text-anchor="end" fill="#EE3338" stroke="#EE3338" stroke-width="0.3" textLength="30.8" lengthAdjust="spacingAndGlyphs">−0.54</text>
<text x="452.2" y="491.5" font-size="12.3" text-anchor="end" fill="#EE3338" stroke="#EE3338" stroke-width="0.3" textLength="30.8" lengthAdjust="spacingAndGlyphs">−0.52</text>
<text x="452.2" y="516" font-size="12.3" text-anchor="end" fill="#EE3338" stroke="#EE3338" stroke-width="0.3" textLength="30.8" lengthAdjust="spacingAndGlyphs">−0.50</text>
<line x1="484.5" y1="436.2" x2="484.5" y2="523.5" stroke="#1E6EE6" stroke-width="1.3" stroke-linecap="butt"/>
<line x1="484.5" y1="436.8" x2="491.1" y2="436.8" stroke="#1E6EE6" stroke-width="1.3" stroke-linecap="butt"/>
<line x1="484.5" y1="454" x2="491.1" y2="454" stroke="#1E6EE6" stroke-width="1.3" stroke-linecap="butt"/>
<line x1="484.5" y1="471.2" x2="491.1" y2="471.2" stroke="#1E6EE6" stroke-width="1.3" stroke-linecap="butt"/>
<line x1="484.5" y1="488.5" x2="491.1" y2="488.5" stroke="#1E6EE6" stroke-width="1.3" stroke-linecap="butt"/>
<line x1="484.5" y1="505.7" x2="491.1" y2="505.7" stroke="#1E6EE6" stroke-width="1.3" stroke-linecap="butt"/>
<line x1="484.5" y1="522.9" x2="491.1" y2="522.9" stroke="#1E6EE6" stroke-width="1.3" stroke-linecap="butt"/>
<text x="526.2" y="441.2" font-size="12.3" text-anchor="end" fill="#1E6EE6" stroke="#1E6EE6" stroke-width="0.3" textLength="30.7" lengthAdjust="spacingAndGlyphs">−34.8</text>
<text x="526.2" y="458.4" font-size="12.3" text-anchor="end" fill="#1E6EE6" stroke="#1E6EE6" stroke-width="0.3" textLength="30.7" lengthAdjust="spacingAndGlyphs">−34.4</text>
<text x="526.2" y="475.6" font-size="12.3" text-anchor="end" fill="#1E6EE6" stroke="#1E6EE6" stroke-width="0.3" textLength="30.7" lengthAdjust="spacingAndGlyphs">−34.0</text>
<text x="526.2" y="492.9" font-size="12.3" text-anchor="end" fill="#1E6EE6" stroke="#1E6EE6" stroke-width="0.3" textLength="30.7" lengthAdjust="spacingAndGlyphs">−33.6</text>
<text x="526.2" y="510.1" font-size="12.3" text-anchor="end" fill="#1E6EE6" stroke="#1E6EE6" stroke-width="0.3" textLength="30.7" lengthAdjust="spacingAndGlyphs">−33.2</text>
<text x="526.2" y="527.3" font-size="12.3" text-anchor="end" fill="#1E6EE6" stroke="#1E6EE6" stroke-width="0.3" textLength="30.7" lengthAdjust="spacingAndGlyphs">−32.8</text>
<text x="17.1" y="481.5" font-size="13.4" text-anchor="middle" fill="#111" stroke="#111" stroke-width="0.3" textLength="68.8" lengthAdjust="spacingAndGlyphs" transform="rotate(-90 17.1 481.5)">Slope(°C per</text>
<text x="34.9" y="484.5" font-size="13.4" text-anchor="middle" fill="#111" stroke="#111" stroke-width="0.3" textLength="98.6" lengthAdjust="spacingAndGlyphs" transform="rotate(-90 34.9 484.5)">degree of latitude)</text>
<text x="470.2" y="487.5" font-size="14" text-anchor="middle" fill="#EE3338" stroke="#EE3338" stroke-width="0.3" textLength="197.6" lengthAdjust="spacingAndGlyphs" transform="rotate(-90 470.2 487.5)">Slope(°C per degree of latitude)</text>
<text x="542.5" y="478.3" font-size="13.4" text-anchor="middle" fill="#1E6EE6" stroke="#1E6EE6" stroke-width="0.3" textLength="118.8" lengthAdjust="spacingAndGlyphs" transform="rotate(-90 542.5 478.3)">High minus low(°C)</text>
<line x1="304.4" y1="429.5" x2="331" y2="429.5" stroke="#505458" stroke-width="1.1" stroke-linecap="butt"/>
<text x="335.8" y="434.2" font-size="14.5" text-anchor="start" fill="#111" stroke="#111" stroke-width="0.3" textLength="49.5" lengthAdjust="spacingAndGlyphs">20°bins</text>
<line x1="304.4" y1="448" x2="331" y2="448" stroke="#F0747C" stroke-width="1.1" stroke-linecap="butt"/>
<text x="335.8" y="452.7" font-size="14.5" text-anchor="start" fill="#111" stroke="#111" stroke-width="0.3" textLength="69" lengthAdjust="spacingAndGlyphs">All records</text>
<line x1="304.4" y1="467.2" x2="331" y2="467.2" stroke="#4A8CE8" stroke-width="1.1" stroke-linecap="butt"/>
<text x="335.8" y="471.9" font-size="14.5" text-anchor="start" fill="#111" stroke="#111" stroke-width="0.3" textLength="60.5" lengthAdjust="spacingAndGlyphs">High–low</text>
<path d="M263.6,490.9 Q267.6,501.1 271.2,509.5 L265.1,506.1 L265.1,527.5 L262.2,527.5 L262.2,506.1 L256,509.5 Q259.6,501.1 263.6,490.9 Z" fill="#F04040"/>
<text x="279.5" y="521.3" font-size="14.5" text-anchor="start" fill="#111" stroke="#111" stroke-width="0.3" textLength="63.6" lengthAdjust="spacingAndGlyphs">Increased</text>
<text x="136.9" y="442.5" font-size="13" text-anchor="start" fill="#222" stroke="#222" stroke-width="0.1" textLength="14.5" lengthAdjust="spacingAndGlyphs">(e)</text>
<path d="M84.3,596.5 L84.5,594.4 L84.9,591.2 L85.3,587.6 L85.7,582.6 L86.3,577.1 L86.8,573.6 L87.2,573.6 L87.6,575.7 L88,578.3 L88.4,581.3 L88.8,584.9 L89.3,587.6 L89.9,589 L90.5,589.5 L91.1,588.2 L91.6,584.1 L92,578.1 L92.4,572.1 L92.8,565.5 L93.2,558.8 L93.6,555.1 L94,556.9 L94.4,561.6 L94.8,564.4 L95.2,562.5 L95.7,558.8 L96.1,556.6 L96.5,557.6 L96.9,560 L97.3,562.8 L97.7,565.4 L98.1,568.3 L98.5,572.1 L99,577.4 L99.4,583.5 L99.8,589.1 L100.2,593.9 L100.6,598.2 L101,601.5 L101.4,603.6 L101.8,604.7 L102.3,604.6 L102.7,603.1 L103.1,600.4 L103.5,596.8 L103.9,591.3 L104.3,584.9 L104.7,581.4 L105.1,583.2 L105.6,588 L106,592.2 L106.4,594.9 L106.7,597.2 L107.2,598.4 L107.8,597.8 L108.4,596.2 L109.1,595.3 L109.7,595.7 L110.3,596.7 L110.9,598.4 L111.4,601.3 L112,604.7 L112.5,606.7 L113,606.2 L113.5,604.1 L114,601.5 L114.5,598.3 L115,594.6 L115.5,590.6 L116.1,586.5 L116.6,582.2 L117.1,578.3 L117.6,574.5 L118.1,571.1 L118.6,569.6 L119.2,571.2 L119.7,574.7 L120.2,578.3 L120.7,581.3 L121.2,584.4 L121.7,587.6 L122.2,591.2 L122.8,594.8 L123.3,596.8 L123.8,596 L124.3,593.7 L124.8,592.2 L125.3,592.5 L125.9,593.7 L126.4,595.3 L126.9,597.1 L127.4,599.3 L127.9,601.5 L128.4,604.2 L128.9,606.8 L129.5,607.6 L130,605.3 L130.5,601.1 L131,596.8 L131.5,592.5 L132,588.2 L132.6,586 L133.1,587.2 L133.6,590.5 L134.1,593.7 L134.6,596.4 L135.1,599 L135.6,600.5 L136.2,600.3 L136.7,599 L137.2,598.4 L137.7,599.5 L138.2,601.3 L138.7,601.5 L139.2,598.3 L139.8,593.5 L140.3,590.6 L140.8,592 L141.3,595.2 L141.8,596.8 L142.3,594.7 L142.9,591 L143.4,589.1 L143.9,590.4 L144.4,593.4 L144.9,596.8 L145.4,601 L145.9,605.7 L146.5,608.6 L147,608.5 L147.5,606.6 L148,604.6 L148.5,602.2 L149,599.5 L149.6,598.4 L150.1,600.3 L150.6,603.8 L151.1,605.5 L151.6,603.6 L152.1,599.9 L152.6,596.8 L153.2,595.1 L153.7,593.9 L154.2,593.7 L154.7,595.3 L155.2,597.8 L155.7,599.3 L156.2,598.7 L156.8,597 L157.3,595.3 L157.8,593.4 L158.3,591.5 L158.8,590.6 L159.3,592 L159.9,594.3 L160.4,595.3 L160.9,594.1 L161.4,591.6 L161.9,587.6 L162.4,581.4 L162.9,573.6 L163.5,565.9 L164,557.5 L164.5,549.1 L165,544.3 L165.5,545.4 L166,550.1 L166.6,555.1 L167.1,559.4 L167.6,564 L168.1,569 L168.6,574.8 L169.1,581 L169.6,586 L170.2,588.9 L170.7,590.6 L171.2,592.2 L171.7,593.7 L172.2,595.1 L172.7,596.8 L173.3,600.1 L173.8,603.8 L174.3,604.6 L174.8,600 L175.3,592.6 L175.8,586 L176.3,581 L176.9,576.9 L177.4,575.2 L177.9,577.1 L178.4,581.5 L178.9,586 L179.4,590.4 L179.9,594.9 L180.5,598.4 L181,600.6 L181.5,601.8 L182,601.5 L182.5,598.1 L183,593.3 L183.6,590.6 L184.1,592.8 L184.6,597.2 L185.1,599.9 L185.6,598.6 L186.1,595.6 L186.6,593.7 L187.2,595 L187.7,597.5 L188.2,598.4 L188.7,596.3 L189.3,592.7 L189.7,589.1 L190.1,585.4 L190.4,581.7 L190.7,579.8 L191.1,581.3 L191.5,584.6 L191.9,587.6 L192.3,589.6 L192.7,591.2 L193.1,592.2 L193.5,592.2 L193.9,591.6 L194.4,590.6 L194.9,589.2 L195.4,587.4 L195.9,586 L196.4,584.9 L197,584.2 L197.5,584.5 L198,586.5 L198.5,589.5 L199,592.2 L199.5,593.8 L200,595.1 L200.6,596.8 L201.1,600 L201.6,603.6 L202.1,605.5 L202.6,603.8 L203.1,600.3 L203.6,598.4 L204.2,600 L204.7,603 L205.2,604.6 L205.7,603 L206.2,599.9 L206.7,596.8 L207.3,593.8 L207.8,590.9 L208.3,589.1 L208.8,589.7 L209.3,591.4 L209.8,592.2 L210.3,590.7 L210.9,588.2 L211.4,586 L211.9,584.1 L212.4,582.4 L212.9,582 L213.4,583.5 L214,586.2 L214.5,589.1 L215,592.5 L215.5,596.1 L216,598.4 L216.5,597.8 L217,595.9 L217.6,595.3 L218.1,597.5 L218.6,601.1 L219.1,604.6 L219.6,607.3 L220.1,609.9 L220.6,612.3 L221.2,614.9 L221.7,617.3 L222.2,618.5 L222.7,617.3 L223.2,615 L223.7,613.8 L224.3,615.5 L224.8,618.3 L225.3,620 L225.8,619 L226.3,616.9 L226.8,615.4 L227.3,615.7 L227.9,616.7 L228.4,616.9 L228.9,615.3 L229.4,612.9 L229.9,610.7 L230.4,608.9 L231,607.3 L231.5,606.7 L232,608 L232.5,610.4 L233,612.3 L233.5,613 L234,613.2 L234.6,613.8 L235.1,615.2 L235.6,616.9 L236.1,618.5 L236.6,620.2 L237.1,621.7 L237.7,621.6 L238.2,617.8 L238.7,612.3 L239.2,609.2 L239.7,611.5 L240.2,616.2 L240.7,618.5 L241.3,614.9 L241.8,608.9 L242.3,605.5 L242.8,607.7 L243.3,612.5 L243.8,615.4 L244.3,613.4 L244.9,609.5 L245.4,607.6 L245.9,610.9 L246.4,616.4 L246.9,619.1 L247.5,615.7 L248,609.6 L248.5,606.1 L248.8,608.7 L249,613.9 L249.3,616.9 L249.7,614.7 L250.3,610.3 L250.8,607.6 L251.3,609 L251.8,612 L252.4,613.8 L252.9,612.8 L253.4,610.6 L253.9,609.2 L254.4,610 L254.9,611.6 L255.5,612.3 L256,610.7 L256.5,608.2 L257,606.7 L257.5,607.4 L258,609.1 L258.5,610.7 L259.1,612.1 L259.6,613.4 L260.1,613.8 L260.6,612.8 L261.1,610.9 L261.6,609.2 L262.2,607.9 L262.7,606.9 L263.2,606.7 L263.7,608.1 L264.2,610.3 L264.7,611.7 L265.2,611.2 L265.8,609.9 L266.3,608.6 L266.8,607.2 L267.3,605.9 L267.8,605.5 L268.3,606.7 L268.9,608.8 L269.4,610.7 L269.9,612.2 L270.4,613.4 L270.9,613.8 L271.4,612.9 L271.9,611.1 L272.5,609.2 L273,607.1 L273.5,605 L274,603.6 L274.5,603.6 L275,604.3 L275.5,605.5 L276.1,607.1 L276.6,609 L277.1,610.7 L277.6,612.2 L278.1,613.4 L278.6,613.8 L279.2,612.5 L279.7,610.2 L280.2,609.2 L280.7,611 L281.2,613.9 L281.7,615.4 L282.2,613.6 L282.8,610.3 L283.3,607.6 L283.8,606.1 L284.3,605.2 L284.8,605.5 L285.3,607.9 L285.9,611.5 L286.4,613.8 L286.9,613.3 L287.4,611.6 L287.9,610.7 L288.4,612 L288.9,614.1 L289.5,616 L290,617.3 L290.5,618.3 L291,618.5 L291.5,617.1 L292,615 L292.6,613.8 L293.1,614.5 L293.6,616.1 L294.1,617.8 L294.6,619.9 L295.1,622 L295.6,623.1 L296.2,622.2 L296.7,620.2 L297.2,618.5 L297.7,617.1 L298.2,616 L298.7,616 L299.2,618.2 L299.8,621.5 L300.3,623.1 L300.8,621.6 L301.3,618.4 L301.8,615.4 L302.3,612.5 L302.9,609.7 L303.4,608.6 L303.9,610.3 L304.4,613.6 L304.9,616.9 L305.4,620.1 L305.9,623.2 L306.5,624.6 L307,622.8 L307.5,619.3 L308,616.9 L308.5,617.3 L309,619 L309.6,620 L310.1,619.5 L310.6,618.3 L311.1,617.8 L311.6,619.1 L312.1,621.1 L312.6,621.6 L313.2,618.9 L313.7,614.7 L314.2,612.3 L314.7,613.3 L315.2,615.9 L315.7,618.5 L316.2,620.6 L316.8,622.5 L317.3,623.1 L317.8,621 L318.3,617.5 L318.8,615.4 L319.3,616 L319.9,618 L320.4,620 L320.9,622 L321.4,624 L321.9,624.6 L322.4,622.5 L322.9,618.9 L323.5,616.9 L324,618.5 L324.5,621.6 L325,623.1 L325.5,621.2 L326,617.7 L326.6,615.4 L327.1,615.8 L327.6,617.4 L328.1,618.5 L328.6,617.6 L329.1,616.1 L329.6,616 L330.2,618.8 L330.7,623 L331.2,626.2 L331.7,627.6 L332.2,628 L332.7,627.7 L333.3,626.7 L333.8,625 L334.3,623.1 L334.8,620.7 L335.3,618.1 L335.8,616.9 L336.3,618.1 L336.9,620.7 L337.4,623.1 L337.9,625 L338.4,626.8 L338.9,627.7 L339.4,627.2 L339.9,625.8 L340.5,624.6 L341,623.8 L341.5,623.1 L342,623.1 L342.5,624.1 L343,625.7 L343.6,627.1 L344.1,628.2 L344.6,629.1 L345.1,629.3 L345.6,628 L346.1,626 L346.6,624.6 L347.2,624.9 L347.7,625.9 L348.2,626.2 L348.7,625.1 L349.2,623.4 L349.7,621.6 L350.3,619.8 L350.8,618 L351.3,616 L351.8,613.3 L352.3,610.5 L352.8,609.2 L353.3,610.3 L353.9,612.8 L354.4,615.4 L354.9,617.9 L355.4,620.4 L355.9,621.6 L356.4,620.1 L357,617.3 L357.5,616 L358,617.9 L358.5,621.2 L359,623.1 L359.5,622 L360,619.4 L360.6,616.9 L361.1,614.7 L361.6,612.5 L362.1,611.7 L362.6,613.3 L363.1,616.2 L363.6,617.8 L364.2,616.5 L364.7,613.9 L365.2,612.3 L365.7,613.2 L366.2,615.1 L366.7,616 L367.3,614.4 L367.8,611.9 L368.3,610.7 L368.8,612.5 L369.3,615.6 L369.8,618.5 L370.3,620.7 L370.9,622.5 L371.4,623.1 L371.9,621.5 L372.4,618.6 L372.9,616 L373.4,614.3 L374,612.9 L374.5,611.7 L375,610.4 L375.5,609.3 L376,609.2 L376.5,610.9 L377,613.7 L377.6,616 L378.1,617.5 L378.6,618.4 L379.1,618.5 L379.6,616.7 L380.1,613.9 L380.6,612.3 L381.2,613.1 L381.7,615.1 L382.2,616 L382.7,614.4 L383.2,611.9 L383.7,610.7 L384.3,612.5 L384.8,615.6 L385.3,618.5 L385.8,620.7 L386.3,622.5 L386.8,623.1 L387.3,621.6 L387.9,618.8 L388.4,616 L388.9,613.2 L389.4,610.4 L389.9,609.2 L390.4,610.6 L391,613.5 L391.5,616 L392,617 L392.5,617.5 L393,618.5 L393.5,620.8 L394,623.5 L394.6,624.6 L395.1,622.8 L395.6,619.3 L396.1,616.9 L396.6,616.9 L397.1,617.9 L397.7,618.5 L398.2,617.7 L398.7,616.5 L399.2,616 L399.7,617.2 L400.2,619.1 L400.7,620 L401.3,619.2 L401.8,617.4 L402.3,615.4 L402.8,613.4 L403.3,611.2 L403.8,609.2 L404.3,607.1 L404.9,605.1 L405.4,604.6 L405.9,606.7 L406.4,610.2 L406.9,612.3 L407.5,610.9 L408,608 L408.5,606.7 L408.9,609.1 L409.2,613 L409.4,616" fill="none" stroke="#8B0A0A" stroke-width="1.9" stroke-linejoin="round" stroke-linecap="round"/>
<path d="M84.6,586.9 L85.5,586.4 L86.7,585.7 L88,585 L89.3,584.5 L90.4,584.2 L91.6,584.1 L92.8,584.2 L93.9,584.5 L95,584.9 L96.1,585.5 L97.3,586.2 L98.5,586.9 L100,587.7 L101.5,588.5 L103.1,589.3 L104.7,590 L106.3,590.7 L107.8,591.2 L109.4,591.8 L110.9,592.2 L112.5,592.5 L114,592.7 L115.5,592.9 L117.1,593.1 L118.6,593.4 L120.2,593.7 L121.7,594 L123.3,594.4 L124.8,594.8 L126.4,595.2 L127.9,595.7 L129.5,596.2 L131,596.8 L132.6,597.4 L134.1,598 L135.6,598.4 L137.2,598.6 L138.7,598.6 L140.3,598.6 L141.8,598.4 L143.4,598 L144.9,597.5 L146.5,596.9 L148,596.2 L149.6,595.3 L151.1,594.3 L152.6,593.2 L154.2,592.2 L155.7,591.1 L157.3,590.1 L158.8,589 L160.4,588.2 L162,587.4 L163.6,586.8 L165.1,586.3 L166.6,586 L167.8,585.8 L169,585.7 L170.1,585.8 L171.2,586 L172.3,586.4 L173.4,586.9 L174.6,587.5 L175.8,588.2 L177.3,588.9 L178.8,589.7 L180.4,590.6 L182,591.3 L183.6,591.8 L185.1,592.3 L186.6,592.8 L188.2,593.1 L189.7,593.4 L191.3,593.5 L192.8,593.7 L194.4,593.7 L195.9,593.7 L197.5,593.7 L199,593.6 L200.6,593.7 L202.1,593.9 L203.6,594.2 L205.2,594.6 L206.7,595.3 L208.3,596.2 L209.8,597.3 L211.4,598.6 L212.9,599.9 L214.5,601.4 L216,603 L217.6,604.6 L219.1,606.1 L220.6,607.4 L222.2,608.6 L223.7,609.8 L225.3,610.7 L226.8,611.5 L228.4,612.2 L229.9,612.7 L231.5,613.2 L233,613.6 L234.6,614 L236.1,614.3 L237.7,614.4 L239.3,614.6 L241,614.6 L242.6,614.6 L243.8,614.4 L244.6,614.1 L245,613.7 L245.4,613.3 L246.2,612.9 L247.5,612.7 L249,612.6 L250.7,612.4 L252.4,612.3 L253.9,612.1 L255.5,611.8 L257,611.6 L258.5,611.4 L260.1,611.2 L261.6,611 L263.2,610.8 L264.7,610.7 L266.3,610.7 L267.8,610.6 L269.4,610.7 L270.9,610.7 L272.5,610.9 L274,611.1 L275.5,611.3 L277.1,611.7 L278.6,612.1 L280.2,612.7 L281.7,613.3 L283.3,613.8 L284.8,614.4 L286.4,614.9 L287.9,615.5 L289.5,616 L291,616.5 L292.6,617 L294.1,617.5 L295.6,617.8 L297.2,618.1 L298.7,618.2 L300.3,618.3 L301.8,618.5 L303.4,618.7 L304.9,618.9 L306.5,619.2 L308,619.4 L309.6,619.6 L311.1,619.7 L312.6,619.8 L314.2,620 L315.7,620.2 L317.3,620.4 L318.8,620.7 L320.4,620.9 L321.9,621.2 L323.5,621.6 L325,621.9 L326.6,622.2 L328.1,622.4 L329.6,622.7 L331.2,622.9 L332.7,623.1 L334.3,623.2 L335.8,623.2 L337.4,623.2 L338.9,623.1 L340.5,623 L342,622.8 L343.6,622.5 L345.1,622.2 L346.6,621.7 L348.2,621.1 L349.7,620.5 L351.3,620 L352.8,619.6 L354.4,619.2 L355.9,618.8 L357.5,618.5 L359,618.1 L360.6,617.6 L362.1,617.2 L363.6,616.9 L365.2,616.7 L366.7,616.5 L368.3,616.4 L369.8,616.3 L371.4,616.2 L372.9,616.2 L374.5,616.2 L376,616.3 L377.6,616.4 L379.1,616.6 L380.6,616.7 L382.2,616.9 L383.7,617.1 L385.3,617.3 L386.8,617.5 L388.4,617.5 L389.9,617.5 L391.5,617.4 L393,617.2 L394.6,616.9 L396.1,616.5 L397.7,616 L399.2,615.5 L400.7,614.8 L402.4,613.8 L404.1,612.7 L405.6,611.6 L406.9,610.7 L407.9,610.1 L408.5,609.7 L409,609.4 L409.4,609.2" fill="none" stroke="#00008B" stroke-width="2.0" stroke-linejoin="round" stroke-linecap="round"/>
<line x1="84.2" y1="543" x2="84.2" y2="631" stroke="#000" stroke-width="1.3" stroke-linecap="butt"/>
<line x1="84.2" y1="565.3" x2="77" y2="565.3" stroke="#000" stroke-width="1.3" stroke-linecap="butt"/>
<line x1="84.2" y1="587" x2="77" y2="587" stroke="#000" stroke-width="1.3" stroke-linecap="butt"/>
<line x1="84.2" y1="608.7" x2="77" y2="608.7" stroke="#000" stroke-width="1.3" stroke-linecap="butt"/>
<line x1="84.2" y1="630.4" x2="77" y2="630.4" stroke="#000" stroke-width="1.3" stroke-linecap="butt"/>
<line x1="84.2" y1="554.5" x2="80.3" y2="554.5" stroke="#000" stroke-width="1.3" stroke-linecap="butt"/>
<line x1="84.2" y1="576.1" x2="80.3" y2="576.1" stroke="#000" stroke-width="1.3" stroke-linecap="butt"/>
<line x1="84.2" y1="597.9" x2="80.3" y2="597.9" stroke="#000" stroke-width="1.3" stroke-linecap="butt"/>
<line x1="84.2" y1="619.5" x2="80.3" y2="619.5" stroke="#000" stroke-width="1.3" stroke-linecap="butt"/>
<text x="70.7" y="569.7" font-size="12" text-anchor="end" fill="#000" stroke="#000" stroke-width="0.3" textLength="12.3" lengthAdjust="spacingAndGlyphs">75</text>
<text x="70.7" y="591.4" font-size="12" text-anchor="end" fill="#000" stroke="#000" stroke-width="0.3" textLength="12.3" lengthAdjust="spacingAndGlyphs">50</text>
<text x="70.7" y="613.1" font-size="12" text-anchor="end" fill="#000" stroke="#000" stroke-width="0.3" textLength="12.3" lengthAdjust="spacingAndGlyphs">25</text>
<text x="70.7" y="634.8" font-size="12" text-anchor="end" fill="#000" stroke="#000" stroke-width="0.3" textLength="6.2" lengthAdjust="spacingAndGlyphs">0</text>
<line x1="77" y1="630.4" x2="409.9" y2="630.4" stroke="#000" stroke-width="1.3" stroke-linecap="butt"/>
<line x1="84.2" y1="630.4" x2="84.2" y2="637" stroke="#000" stroke-width="1.3" stroke-linecap="butt"/>
<text x="84.2" y="651.4" font-size="12" text-anchor="middle" fill="#111" stroke="#111" stroke-width="0.3" textLength="6.2" lengthAdjust="spacingAndGlyphs">0</text>
<line x1="90.7" y1="630.4" x2="90.7" y2="634" stroke="#000" stroke-width="1.3" stroke-linecap="butt"/>
<line x1="97.2" y1="630.4" x2="97.2" y2="634" stroke="#000" stroke-width="1.3" stroke-linecap="butt"/>
<line x1="103.7" y1="630.4" x2="103.7" y2="634" stroke="#000" stroke-width="1.3" stroke-linecap="butt"/>
<line x1="110.2" y1="630.4" x2="110.2" y2="634" stroke="#000" stroke-width="1.3" stroke-linecap="butt"/>
<line x1="116.7" y1="630.4" x2="116.7" y2="637" stroke="#000" stroke-width="1.3" stroke-linecap="butt"/>
<text x="116.7" y="651.4" font-size="12" text-anchor="middle" fill="#111" stroke="#111" stroke-width="0.3" textLength="6.2" lengthAdjust="spacingAndGlyphs">1</text>
<line x1="123.2" y1="630.4" x2="123.2" y2="634" stroke="#000" stroke-width="1.3" stroke-linecap="butt"/>
<line x1="129.7" y1="630.4" x2="129.7" y2="634" stroke="#000" stroke-width="1.3" stroke-linecap="butt"/>
<line x1="136.2" y1="630.4" x2="136.2" y2="634" stroke="#000" stroke-width="1.3" stroke-linecap="butt"/>
<line x1="142.7" y1="630.4" x2="142.7" y2="634" stroke="#000" stroke-width="1.3" stroke-linecap="butt"/>
<line x1="149.2" y1="630.4" x2="149.2" y2="637" stroke="#000" stroke-width="1.3" stroke-linecap="butt"/>
<text x="149.2" y="651.4" font-size="12" text-anchor="middle" fill="#111" stroke="#111" stroke-width="0.3" textLength="6.2" lengthAdjust="spacingAndGlyphs">2</text>
<line x1="155.7" y1="630.4" x2="155.7" y2="634" stroke="#000" stroke-width="1.3" stroke-linecap="butt"/>
<line x1="162.2" y1="630.4" x2="162.2" y2="634" stroke="#000" stroke-width="1.3" stroke-linecap="butt"/>
<line x1="168.7" y1="630.4" x2="168.7" y2="634" stroke="#000" stroke-width="1.3" stroke-linecap="butt"/>
<line x1="175.2" y1="630.4" x2="175.2" y2="634" stroke="#000" stroke-width="1.3" stroke-linecap="butt"/>
<line x1="181.7" y1="630.4" x2="181.7" y2="637" stroke="#000" stroke-width="1.3" stroke-linecap="butt"/>
<text x="181.7" y="651.4" font-size="12" text-anchor="middle" fill="#111" stroke="#111" stroke-width="0.3" textLength="6.2" lengthAdjust="spacingAndGlyphs">3</text>
<line x1="188.2" y1="630.4" x2="188.2" y2="634" stroke="#000" stroke-width="1.3" stroke-linecap="butt"/>
<line x1="194.7" y1="630.4" x2="194.7" y2="634" stroke="#000" stroke-width="1.3" stroke-linecap="butt"/>
<line x1="201.2" y1="630.4" x2="201.2" y2="634" stroke="#000" stroke-width="1.3" stroke-linecap="butt"/>
<line x1="207.7" y1="630.4" x2="207.7" y2="634" stroke="#000" stroke-width="1.3" stroke-linecap="butt"/>
<line x1="214.2" y1="630.4" x2="214.2" y2="637" stroke="#000" stroke-width="1.3" stroke-linecap="butt"/>
<text x="214.2" y="651.4" font-size="12" text-anchor="middle" fill="#111" stroke="#111" stroke-width="0.3" textLength="6.2" lengthAdjust="spacingAndGlyphs">4</text>
<line x1="220.7" y1="630.4" x2="220.7" y2="634" stroke="#000" stroke-width="1.3" stroke-linecap="butt"/>
<line x1="227.2" y1="630.4" x2="227.2" y2="634" stroke="#000" stroke-width="1.3" stroke-linecap="butt"/>
<line x1="233.7" y1="630.4" x2="233.7" y2="634" stroke="#000" stroke-width="1.3" stroke-linecap="butt"/>
<line x1="240.2" y1="630.4" x2="240.2" y2="634" stroke="#000" stroke-width="1.3" stroke-linecap="butt"/>
<line x1="246.7" y1="630.4" x2="246.7" y2="637" stroke="#000" stroke-width="1.3" stroke-linecap="butt"/>
<text x="246.7" y="651.4" font-size="12" text-anchor="middle" fill="#111" stroke="#111" stroke-width="0.3" textLength="6.2" lengthAdjust="spacingAndGlyphs">5</text>
<line x1="253.2" y1="630.4" x2="253.2" y2="634" stroke="#000" stroke-width="1.3" stroke-linecap="butt"/>
<line x1="259.7" y1="630.4" x2="259.7" y2="634" stroke="#000" stroke-width="1.3" stroke-linecap="butt"/>
<line x1="266.2" y1="630.4" x2="266.2" y2="634" stroke="#000" stroke-width="1.3" stroke-linecap="butt"/>
<line x1="272.7" y1="630.4" x2="272.7" y2="634" stroke="#000" stroke-width="1.3" stroke-linecap="butt"/>
<line x1="279.2" y1="630.4" x2="279.2" y2="637" stroke="#000" stroke-width="1.3" stroke-linecap="butt"/>
<text x="279.2" y="651.4" font-size="12" text-anchor="middle" fill="#111" stroke="#111" stroke-width="0.3" textLength="6.2" lengthAdjust="spacingAndGlyphs">6</text>
<line x1="285.7" y1="630.4" x2="285.7" y2="634" stroke="#000" stroke-width="1.3" stroke-linecap="butt"/>
<line x1="292.2" y1="630.4" x2="292.2" y2="634" stroke="#000" stroke-width="1.3" stroke-linecap="butt"/>
<line x1="298.7" y1="630.4" x2="298.7" y2="634" stroke="#000" stroke-width="1.3" stroke-linecap="butt"/>
<line x1="305.2" y1="630.4" x2="305.2" y2="634" stroke="#000" stroke-width="1.3" stroke-linecap="butt"/>
<line x1="311.7" y1="630.4" x2="311.7" y2="637" stroke="#000" stroke-width="1.3" stroke-linecap="butt"/>
<text x="311.7" y="651.4" font-size="12" text-anchor="middle" fill="#111" stroke="#111" stroke-width="0.3" textLength="6.2" lengthAdjust="spacingAndGlyphs">7</text>
<line x1="318.2" y1="630.4" x2="318.2" y2="634" stroke="#000" stroke-width="1.3" stroke-linecap="butt"/>
<line x1="324.7" y1="630.4" x2="324.7" y2="634" stroke="#000" stroke-width="1.3" stroke-linecap="butt"/>
<line x1="331.2" y1="630.4" x2="331.2" y2="634" stroke="#000" stroke-width="1.3" stroke-linecap="butt"/>
<line x1="337.7" y1="630.4" x2="337.7" y2="634" stroke="#000" stroke-width="1.3" stroke-linecap="butt"/>
<line x1="344.2" y1="630.4" x2="344.2" y2="637" stroke="#000" stroke-width="1.3" stroke-linecap="butt"/>
<text x="344.2" y="651.4" font-size="12" text-anchor="middle" fill="#111" stroke="#111" stroke-width="0.3" textLength="6.2" lengthAdjust="spacingAndGlyphs">8</text>
<line x1="350.7" y1="630.4" x2="350.7" y2="634" stroke="#000" stroke-width="1.3" stroke-linecap="butt"/>
<line x1="357.2" y1="630.4" x2="357.2" y2="634" stroke="#000" stroke-width="1.3" stroke-linecap="butt"/>
<line x1="363.7" y1="630.4" x2="363.7" y2="634" stroke="#000" stroke-width="1.3" stroke-linecap="butt"/>
<line x1="370.2" y1="630.4" x2="370.2" y2="634" stroke="#000" stroke-width="1.3" stroke-linecap="butt"/>
<line x1="376.7" y1="630.4" x2="376.7" y2="637" stroke="#000" stroke-width="1.3" stroke-linecap="butt"/>
<text x="376.7" y="651.4" font-size="12" text-anchor="middle" fill="#111" stroke="#111" stroke-width="0.3" textLength="6.2" lengthAdjust="spacingAndGlyphs">9</text>
<line x1="383.2" y1="630.4" x2="383.2" y2="634" stroke="#000" stroke-width="1.3" stroke-linecap="butt"/>
<line x1="389.7" y1="630.4" x2="389.7" y2="634" stroke="#000" stroke-width="1.3" stroke-linecap="butt"/>
<line x1="396.2" y1="630.4" x2="396.2" y2="634" stroke="#000" stroke-width="1.3" stroke-linecap="butt"/>
<line x1="402.7" y1="630.4" x2="402.7" y2="634" stroke="#000" stroke-width="1.3" stroke-linecap="butt"/>
<line x1="409.2" y1="630.4" x2="409.2" y2="637" stroke="#000" stroke-width="1.3" stroke-linecap="butt"/>
<text x="409.2" y="651.4" font-size="12" text-anchor="middle" fill="#111" stroke="#111" stroke-width="0.3" textLength="12.3" lengthAdjust="spacingAndGlyphs">10</text>
<text x="224" y="674" font-size="13" text-anchor="start" fill="#111" stroke="#111" stroke-width="0.3" textLength="78" lengthAdjust="spacingAndGlyphs">Age(cal yr BP)</text>
<text x="36.6" y="595.9" font-size="13.7" text-anchor="middle" fill="#111" stroke="#111" stroke-width="0.3" textLength="90.8" lengthAdjust="spacingAndGlyphs" transform="rotate(-90 36.6 595.9)">Flood activity(%)</text>
<path d="M263.5,568.1 Q267.4,578.4 271,586.8 L264.9,583.4 L264.9,604.6 L262.1,604.6 L262.1,583.4 L256,586.8 Q259.6,578.4 263.5,568.1 Z" fill="#8B0A0A"/>
<text x="280.4" y="588.8" font-size="14.5" text-anchor="start" fill="#111" stroke="#111" stroke-width="0.3" textLength="57.5" lengthAdjust="spacingAndGlyphs">Negative</text>
<text x="137.5" y="570.6" font-size="13" text-anchor="start" fill="#222" stroke="#222" stroke-width="0.1" textLength="10.3" lengthAdjust="spacingAndGlyphs">(f)</text>
</svg>
</body></html>
